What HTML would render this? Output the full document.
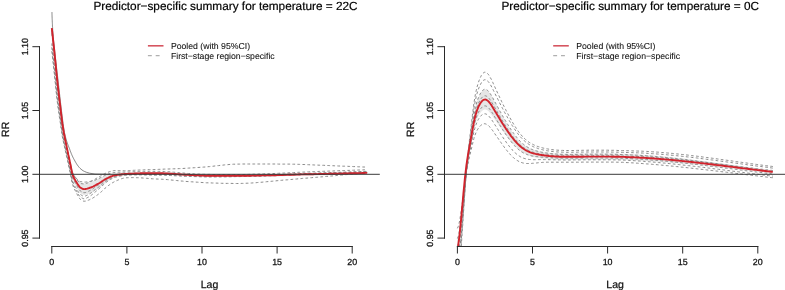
<!DOCTYPE html>
<html><head><meta charset="utf-8"><style>
html,body{margin:0;padding:0;background:#fff;}
svg{display:block;}
text{font-family:"Liberation Sans",Arial,Helvetica,sans-serif;fill:#111;stroke:#111;stroke-width:0.25px;text-rendering:geometricPrecision;}
.ttl{font-size:11.8px;stroke-width:0.2px;fill:#000;stroke:#000;}
.leg{font-size:8.7px;stroke-width:0.08px;}
.ax{font-size:8.9px;}
.lab{font-size:10.5px;}
</style></head><body>
<svg width="785" height="290" viewBox="0 0 785 290"><defs><clipPath id="cl"><rect x="39.2" y="12.1" width="340.6" height="234.1"/></clipPath><clipPath id="cr"><rect x="444.8" y="12.1" width="341" height="234.1"/></clipPath></defs><rect width="785" height="290" fill="#fff"/><g clip-path="url(#cl)"><polygon points="51.8,24.4 52.6,31.3 53.3,38.3 54.1,45.4 54.8,52.6 55.6,60.0 56.3,67.6 57.1,75.0 57.8,81.9 58.6,88.5 59.3,94.9 60.1,101.1 60.8,107.3 61.6,113.6 62.3,119.4 63.1,124.3 63.8,128.7 64.6,132.7 65.3,136.5 66.1,140.1 66.8,143.7 67.6,147.2 68.3,150.9 69.1,154.4 69.8,157.9 70.6,161.4 71.3,165.2 72.1,168.8 72.8,171.2 73.6,172.8 74.3,174.2 75.1,175.4 75.8,176.5 76.6,177.6 77.3,178.7 78.1,179.8 78.8,180.8 79.6,181.6 80.3,182.1 81.1,182.5 81.8,182.8 82.6,183.1 83.3,183.3 84.1,183.4 84.8,183.4 85.6,183.3 86.3,183.2 87.1,183.0 87.8,182.8 88.6,182.6 89.3,182.4 90.1,182.2 90.9,181.9 91.6,181.7 92.4,181.4 93.1,181.1 93.9,180.8 94.6,180.4 95.4,180.1 96.1,179.7 96.9,179.3 97.6,179.0 98.4,178.7 99.1,178.3 99.9,178.0 100.6,177.6 101.4,177.2 102.1,176.9 102.9,176.6 103.6,176.2 104.4,175.9 105.1,175.6 105.9,175.3 106.6,175.1 107.4,174.9 108.1,174.7 108.9,174.4 109.6,174.2 110.4,174.0 111.1,173.8 111.9,173.6 112.6,173.4 113.4,173.2 114.1,173.1 114.9,173.0 115.6,172.9 116.4,172.8 117.1,172.8 117.9,172.7 118.6,172.7 119.4,172.7 120.1,172.6 120.9,172.6 121.6,172.5 122.4,172.5 123.1,172.5 123.9,172.5 124.6,172.4 125.4,172.4 126.1,172.4 126.9,172.4 127.7,172.3 128.4,172.3 129.2,172.3 129.9,172.3 130.7,172.2 131.4,172.2 132.2,172.2 132.9,172.2 133.7,172.1 134.4,172.1 135.2,172.1 135.9,172.1 136.7,172.0 137.4,172.0 138.2,172.0 138.9,172.0 139.7,172.0 140.4,172.0 141.2,172.0 141.9,172.0 143.4,172.0 144.9,172.0 146.4,172.0 147.9,172.0 149.4,172.0 150.9,172.0 152.4,172.0 153.9,172.0 155.4,172.0 156.9,172.0 158.4,172.0 159.9,172.0 161.4,172.0 162.9,172.0 164.4,172.1 166.0,172.1 167.5,172.2 169.0,172.3 170.5,172.4 172.0,172.5 173.5,172.6 175.0,172.7 176.5,172.8 178.0,173.0 179.5,173.1 181.0,173.2 182.5,173.3 184.0,173.4 185.5,173.5 187.0,173.5 188.5,173.6 190.0,173.7 191.5,173.8 193.0,173.8 194.5,173.9 196.0,174.0 197.5,174.0 199.0,174.1 200.5,174.2 202.0,174.2 203.5,174.3 205.0,174.3 206.5,174.4 208.0,174.4 209.5,174.4 211.0,174.4 212.5,174.5 214.0,174.5 215.5,174.5 217.0,174.5 218.5,174.5 220.0,174.5 221.5,174.5 223.0,174.5 224.5,174.5 226.0,174.5 227.5,174.5 229.0,174.6 230.5,174.6 232.0,174.6 233.5,174.6 235.0,174.5 236.5,174.5 238.0,174.5 239.6,174.5 241.1,174.5 242.6,174.5 244.1,174.5 245.6,174.4 247.1,174.4 248.6,174.4 250.1,174.4 251.6,174.4 253.1,174.3 254.6,174.3 256.1,174.3 257.6,174.2 259.1,174.2 260.6,174.2 262.1,174.2 263.6,174.1 265.1,174.1 266.6,174.1 268.1,174.1 269.6,174.0 271.1,174.0 272.6,174.0 274.1,173.9 275.6,173.9 277.1,173.8 278.6,173.8 280.1,173.8 281.6,173.7 283.1,173.7 284.6,173.6 286.1,173.6 287.6,173.5 289.1,173.5 290.6,173.5 292.1,173.4 293.6,173.4 295.1,173.3 296.6,173.3 298.1,173.3 299.6,173.2 301.1,173.2 302.6,173.1 304.1,173.1 305.6,173.1 307.1,173.0 308.6,173.0 310.1,173.0 311.6,172.9 313.1,172.9 314.6,172.9 316.2,172.8 317.7,172.8 319.2,172.8 320.7,172.7 322.2,172.7 323.7,172.7 325.2,172.6 326.7,172.6 328.2,172.6 329.7,172.6 331.2,172.5 332.7,172.5 334.2,172.5 335.7,172.4 337.2,172.4 338.7,172.4 340.2,172.3 341.7,172.3 343.2,172.2 344.7,172.2 346.2,172.2 347.7,172.1 349.2,172.1 350.7,172.1 352.2,172.0 353.7,172.0 355.2,171.9 356.7,171.9 358.2,171.9 359.7,171.8 361.2,171.8 362.7,171.7 364.2,171.7 365.7,171.7 367.2,171.6 367.2,174.2 365.7,174.2 364.2,174.3 362.7,174.3 361.2,174.3 359.7,174.4 358.2,174.4 356.7,174.5 355.2,174.5 353.7,174.5 352.2,174.6 350.7,174.6 349.2,174.6 347.7,174.7 346.2,174.7 344.7,174.8 343.2,174.8 341.7,174.8 340.2,174.9 338.7,174.9 337.2,174.9 335.7,175.0 334.2,175.0 332.7,175.0 331.2,175.1 329.7,175.1 328.2,175.1 326.7,175.2 325.2,175.2 323.7,175.2 322.2,175.3 320.7,175.3 319.2,175.3 317.7,175.3 316.2,175.4 314.6,175.4 313.1,175.4 311.6,175.5 310.1,175.5 308.6,175.5 307.1,175.6 305.6,175.6 304.1,175.6 302.6,175.7 301.1,175.7 299.6,175.8 298.1,175.8 296.6,175.8 295.1,175.9 293.6,175.9 292.1,176.0 290.6,176.0 289.1,176.1 287.6,176.1 286.1,176.1 284.6,176.2 283.1,176.2 281.6,176.3 280.1,176.3 278.6,176.4 277.1,176.4 275.6,176.4 274.1,176.5 272.6,176.5 271.1,176.5 269.6,176.6 268.1,176.6 266.6,176.6 265.1,176.7 263.6,176.7 262.1,176.7 260.6,176.7 259.1,176.8 257.6,176.8 256.1,176.8 254.6,176.9 253.1,176.9 251.6,176.9 250.1,176.9 248.6,177.0 247.1,177.0 245.6,177.0 244.1,177.0 242.6,177.0 241.1,177.1 239.6,177.1 238.0,177.1 236.5,177.1 235.0,177.1 233.5,177.1 232.0,177.1 230.5,177.1 229.0,177.1 227.5,177.1 226.0,177.1 224.5,177.1 223.0,177.1 221.5,177.1 220.0,177.1 218.5,177.1 217.0,177.0 215.5,177.0 214.0,177.0 212.5,177.0 211.0,177.0 209.5,177.0 208.0,177.0 206.5,176.9 205.0,176.9 203.5,176.8 202.0,176.8 200.5,176.7 199.0,176.7 197.5,176.6 196.0,176.5 194.5,176.5 193.0,176.4 191.5,176.3 190.0,176.2 188.5,176.2 187.0,176.1 185.5,176.0 184.0,175.9 182.5,175.8 181.0,175.7 179.5,175.6 178.0,175.5 176.5,175.4 175.0,175.3 173.5,175.2 172.0,175.1 170.5,175.0 169.0,174.9 167.5,174.8 166.0,174.7 164.4,174.6 162.9,174.6 161.4,174.6 159.9,174.6 158.4,174.6 156.9,174.6 155.4,174.6 153.9,174.6 152.4,174.6 150.9,174.6 149.4,174.6 147.9,174.6 146.4,174.6 144.9,174.6 143.4,174.6 141.9,174.6 141.2,174.7 140.4,174.7 139.7,174.7 138.9,174.7 138.2,174.8 137.4,174.8 136.7,174.8 135.9,174.9 135.2,174.9 134.4,174.9 133.7,175.0 132.9,175.0 132.2,175.1 131.4,175.1 130.7,175.2 129.9,175.2 129.2,175.3 128.4,175.3 127.7,175.4 126.9,175.4 126.1,175.5 125.4,175.5 124.6,175.6 123.9,175.7 123.1,175.8 122.4,175.9 121.6,176.0 120.9,176.2 120.1,176.3 119.4,176.4 118.6,176.6 117.9,176.8 117.1,176.9 116.4,177.1 115.6,177.3 114.9,177.5 114.1,177.7 113.4,178.0 112.6,178.3 111.9,178.7 111.1,179.0 110.4,179.5 109.6,179.9 108.9,180.4 108.1,180.9 107.4,181.3 106.6,181.9 105.9,182.4 105.1,183.0 104.4,183.6 103.6,184.3 102.9,184.9 102.1,185.6 101.4,186.2 100.6,186.8 99.9,187.4 99.1,188.0 98.4,188.6 97.6,189.1 96.9,189.5 96.1,190.0 95.4,190.5 94.6,191.0 93.9,191.4 93.1,191.9 92.4,192.3 91.6,192.6 90.9,193.0 90.1,193.3 89.3,193.6 88.6,193.8 87.8,194.1 87.1,194.4 86.3,194.6 85.6,194.7 84.8,194.8 84.1,194.9 83.3,194.7 82.6,194.5 81.8,194.1 81.1,193.6 80.3,193.1 79.6,192.3 78.8,191.3 78.1,190.0 77.3,188.7 76.6,187.3 75.8,185.9 75.1,184.6 74.3,183.2 73.6,181.5 72.8,179.6 72.1,177.0 71.3,173.1 70.6,169.2 69.8,165.6 69.1,162.1 68.3,158.5 67.6,154.9 66.8,151.3 66.1,147.8 65.3,144.2 64.6,140.4 63.8,136.3 63.1,132.0 62.3,127.1 61.6,121.2 60.8,114.9 60.1,108.8 59.3,102.5 58.6,96.2 57.8,89.6 57.1,82.7 56.3,75.2 55.6,67.6 54.8,60.3 54.1,53.1 53.3,45.9 52.6,38.9 51.8,32.0" fill="#e6e6e6" stroke="none"/><polyline points="51.8,51.2 52.6,58.0 53.3,64.9 54.1,71.8 54.8,78.8 55.6,85.8 56.3,93.1 57.1,100.0 57.8,105.9 58.6,111.3 59.3,116.4 60.1,121.3 60.8,126.4 61.6,131.7 62.3,136.5 63.1,140.3 63.8,143.8 64.6,147.1 65.3,150.5 66.1,154.0 66.8,157.4 67.6,160.8 68.3,164.4 69.1,167.9 69.8,171.3 70.6,174.9 71.3,178.8 72.1,182.7 72.8,185.3 73.6,187.3 74.3,188.9 75.1,190.4 75.8,191.7 76.6,193.2 77.3,194.6 78.1,196.0 78.8,197.3 79.6,198.5 80.3,199.3 81.1,199.9 81.8,200.4 82.6,200.8 83.3,201.1 84.1,201.2 84.8,201.2 85.6,201.1 86.3,200.9 87.1,200.7 87.8,200.4 88.6,200.1 89.3,199.8 90.1,199.4 90.9,199.1 91.6,198.7 92.4,198.3 93.1,197.8 93.9,197.4 94.6,196.9 95.4,196.3 96.1,195.8 96.9,195.3 97.6,194.8 98.4,194.2 99.1,193.6 99.9,193.0 100.6,192.3 101.4,191.7 102.1,191.0 102.9,190.3 103.6,189.6 104.4,188.9 105.1,188.2 105.9,187.5 106.6,186.9 107.4,186.3 108.1,185.8 108.9,185.2 109.6,184.7 110.4,184.1 111.1,183.6 111.9,183.1 112.6,182.7 113.4,182.3 114.1,181.8 114.9,181.5 115.6,181.1 116.4,180.8 117.1,180.5 117.9,180.1 118.6,179.8 119.4,179.5 120.1,179.2 120.9,179.0 121.6,178.7 122.4,178.5 123.1,178.3 123.9,178.1 124.6,178.0 125.4,177.9 126.1,177.8 126.9,177.7 127.7,177.7 128.4,177.7 129.2,177.6 129.9,177.6 130.7,177.6 131.4,177.6 132.2,177.6 132.9,177.6 133.7,177.6 134.4,177.6 135.2,177.6 135.9,177.6 136.7,177.7 137.4,177.7 138.2,177.7 138.9,177.8 139.7,177.8 140.4,177.8 141.2,177.9 141.9,177.9 143.4,178.1 144.9,178.2 146.4,178.3 147.9,178.4 149.4,178.6 150.9,178.7 152.4,178.8 153.9,178.9 155.4,179.0 156.9,179.0 158.4,179.1 159.9,179.1 161.4,179.2 162.9,179.3 164.4,179.4 166.0,179.5 167.5,179.6 169.0,179.8 170.5,179.9 172.0,180.1 173.5,180.2 175.0,180.4 176.5,180.5 178.0,180.7 179.5,180.8 181.0,181.0 182.5,181.1 184.0,181.3 185.5,181.4 187.0,181.5 188.5,181.6 190.0,181.7 191.5,181.8 193.0,181.9 194.5,182.0 196.0,182.1 197.5,182.2 199.0,182.3 200.5,182.4 202.0,182.5 203.5,182.6 205.0,182.7 206.5,182.8 208.0,182.8 209.5,182.9 211.0,182.9 212.5,183.0 214.0,183.0 215.5,183.1 217.0,183.1 218.5,183.2 220.0,183.2 221.5,183.3 223.0,183.3 224.5,183.3 226.0,183.4 227.5,183.4 229.0,183.4 230.5,183.4 232.0,183.4 233.5,183.5 235.0,183.5 236.5,183.5 238.0,183.5 239.6,183.5 241.1,183.4 242.6,183.4 244.1,183.4 245.6,183.3 247.1,183.2 248.6,183.2 250.1,183.1 251.6,183.0 253.1,182.9 254.6,182.8 256.1,182.7 257.6,182.5 259.1,182.4 260.6,182.3 262.1,182.2 263.6,182.0 265.1,181.9 266.6,181.7 268.1,181.6 269.6,181.5 271.1,181.3 272.6,181.2 274.1,181.0 275.6,180.9 277.1,180.7 278.6,180.6 280.1,180.4 281.6,180.3 283.1,180.1 284.6,180.0 286.1,179.9 287.6,179.8 289.1,179.6 290.6,179.5 292.1,179.4 293.6,179.2 295.1,179.1 296.6,179.0 298.1,178.8 299.6,178.7 301.1,178.6 302.6,178.4 304.1,178.3 305.6,178.2 307.1,178.1 308.6,177.9 310.1,177.8 311.6,177.7 313.1,177.5 314.6,177.4 316.2,177.3 317.7,177.2 319.2,177.0 320.7,176.9 322.2,176.8 323.7,176.7 325.2,176.5 326.7,176.4 328.2,176.3 329.7,176.1 331.2,176.0 332.7,175.9 334.2,175.7 335.7,175.6 337.2,175.4 338.7,175.3 340.2,175.2 341.7,175.0 343.2,174.9 344.7,174.7 346.2,174.6 347.7,174.5 349.2,174.3 350.7,174.2 352.2,174.0 353.7,173.9 355.2,173.7 356.7,173.6 358.2,173.4 359.7,173.3 361.2,173.1 362.7,173.0 364.2,172.8 365.7,172.7 367.2,172.5" fill="none" stroke="#858585" stroke-width="0.95" stroke-dasharray="2.7,2.3"/><polyline points="51.8,43.5 52.6,50.4 53.3,57.4 54.1,64.5 54.8,71.8 55.6,79.1 56.3,86.7 57.1,94.0 57.8,100.3 58.6,106.2 59.3,111.7 60.1,117.2 60.8,122.6 61.6,128.2 62.3,133.3 63.1,137.5 63.8,141.2 64.6,144.6 65.3,148.0 66.1,151.3 66.8,154.5 67.6,157.8 68.3,161.3 69.1,164.7 69.8,168.2 70.6,171.7 71.3,175.5 72.1,179.3 72.8,181.7 73.6,183.6 74.3,185.1 75.1,186.4 75.8,187.7 76.6,188.9 77.3,190.2 78.1,191.5 78.8,192.7 79.6,193.7 80.3,194.4 81.1,194.9 81.8,195.4 82.6,195.8 83.3,196.0 84.1,196.1 84.8,196.1 85.6,195.9 86.3,195.6 87.1,195.3 87.8,194.9 88.6,194.4 89.3,194.0 90.1,193.5 90.9,193.0 91.6,192.5 92.4,191.9 93.1,191.3 93.9,190.7 94.6,190.1 95.4,189.5 96.1,188.8 96.9,188.3 97.6,187.7 98.4,187.2 99.1,186.6 99.9,186.0 100.6,185.4 101.4,184.7 102.1,184.1 102.9,183.5 103.6,182.9 104.4,182.3 105.1,181.7 105.9,181.1 106.6,180.6 107.4,180.1 108.1,179.7 108.9,179.2 109.6,178.8 110.4,178.4 111.1,178.0 111.9,177.6 112.6,177.3 113.4,177.0 114.1,176.7 114.9,176.5 115.6,176.3 116.4,176.1 117.1,175.9 117.9,175.8 118.6,175.6 119.4,175.5 120.1,175.3 120.9,175.2 121.6,175.1 122.4,175.0 123.1,174.9 123.9,174.8 124.6,174.7 125.4,174.6 126.1,174.6 126.9,174.5 127.7,174.5 128.4,174.5 129.2,174.4 129.9,174.4 130.7,174.4 131.4,174.3 132.2,174.3 132.9,174.3 133.7,174.3 134.4,174.3 135.2,174.3 135.9,174.2 136.7,174.2 137.4,174.2 138.2,174.2 138.9,174.2 139.7,174.2 140.4,174.2 141.2,174.3 141.9,174.3 143.4,174.3 144.9,174.3 146.4,174.4 147.9,174.4 149.4,174.5 150.9,174.5 152.4,174.5 153.9,174.5 155.4,174.6 156.9,174.6 158.4,174.6 159.9,174.6 161.4,174.6 162.9,174.6 164.4,174.6 166.0,174.7 167.5,174.8 169.0,174.8 170.5,174.9 172.0,175.0 173.5,175.1 175.0,175.2 176.5,175.3 178.0,175.4 179.5,175.5 181.0,175.6 182.5,175.7 184.0,175.8 185.5,175.9 187.0,175.9 188.5,176.0 190.0,176.1 191.5,176.1 193.0,176.2 194.5,176.3 196.0,176.3 197.5,176.4 199.0,176.4 200.5,176.5 202.0,176.5 203.5,176.6 205.0,176.6 206.5,176.6 208.0,176.7 209.5,176.7 211.0,176.7 212.5,176.7 214.0,176.7 215.5,176.7 217.0,176.7 218.5,176.7 220.0,176.7 221.5,176.7 223.0,176.7 224.5,176.7 226.0,176.7 227.5,176.7 229.0,176.7 230.5,176.7 232.0,176.7 233.5,176.6 235.0,176.6 236.5,176.6 238.0,176.6 239.6,176.6 241.1,176.5 242.6,176.5 244.1,176.5 245.6,176.4 247.1,176.4 248.6,176.4 250.1,176.3 251.6,176.3 253.1,176.3 254.6,176.2 256.1,176.2 257.6,176.2 259.1,176.1 260.6,176.1 262.1,176.0 263.6,176.0 265.1,176.0 266.6,175.9 268.1,175.9 269.6,175.8 271.1,175.8 272.6,175.7 274.1,175.7 275.6,175.6 277.1,175.6 278.6,175.5 280.1,175.5 281.6,175.4 283.1,175.4 284.6,175.3 286.1,175.2 287.6,175.2 289.1,175.1 290.6,175.1 292.1,175.0 293.6,174.9 295.1,174.9 296.6,174.8 298.1,174.8 299.6,174.7 301.1,174.6 302.6,174.6 304.1,174.5 305.6,174.5 307.1,174.4 308.6,174.4 310.1,174.3 311.6,174.3 313.1,174.2 314.6,174.2 316.2,174.1 317.7,174.1 319.2,174.0 320.7,174.0 322.2,173.9 323.7,173.9 325.2,173.8 326.7,173.8 328.2,173.7 329.7,173.7 331.2,173.6 332.7,173.6 334.2,173.5 335.7,173.5 337.2,173.4 338.7,173.3 340.2,173.3 341.7,173.2 343.2,173.2 344.7,173.1 346.2,173.1 347.7,173.0 349.2,173.0 350.7,172.9 352.2,172.8 353.7,172.8 355.2,172.7 356.7,172.7 358.2,172.6 359.7,172.6 361.2,172.5 362.7,172.4 364.2,172.4 365.7,172.3 367.2,172.3" fill="none" stroke="#858585" stroke-width="0.95" stroke-dasharray="2.7,2.3"/><polyline points="51.8,33.3 52.6,40.6 53.3,47.9 54.1,55.3 54.8,62.7 55.6,70.1 56.3,77.8 57.1,85.2 57.8,91.9 58.6,98.2 59.3,104.3 60.1,110.3 60.8,116.2 61.6,122.3 62.3,127.9 63.1,132.6 63.8,136.8 64.6,140.6 65.3,144.2 66.1,147.5 66.8,150.8 67.6,154.1 68.3,157.5 69.1,160.9 69.8,164.3 70.6,167.8 71.3,171.7 72.1,175.5 72.8,177.9 73.6,179.7 74.3,181.3 75.1,182.6 75.8,183.9 76.6,185.2 77.3,186.5 78.1,187.8 78.8,189.1 79.6,190.1 80.3,190.9 81.1,191.4 81.8,191.9 82.6,192.3 83.3,192.6 84.1,192.7 84.8,192.6 85.6,192.5 86.3,192.3 87.1,192.0 87.8,191.6 88.6,191.3 89.3,190.9 90.1,190.4 90.9,190.0 91.6,189.6 92.4,189.1 93.1,188.6 93.9,188.1 94.6,187.5 95.4,187.0 96.1,186.5 96.9,186.0 97.6,185.5 98.4,185.0 99.1,184.5 99.9,184.0 100.6,183.4 101.4,182.9 102.1,182.3 102.9,181.7 103.6,181.2 104.4,180.7 105.1,180.2 105.9,179.7 106.6,179.2 107.4,178.8 108.1,178.4 108.9,178.0 109.6,177.7 110.4,177.3 111.1,176.9 111.9,176.6 112.6,176.3 113.4,176.1 114.1,175.9 114.9,175.7 115.6,175.5 116.4,175.4 117.1,175.2 117.9,175.1 118.6,175.0 119.4,174.9 120.1,174.8 120.9,174.7 121.6,174.6 122.4,174.5 123.1,174.4 123.9,174.4 124.6,174.3 125.4,174.2 126.1,174.2 126.9,174.1 127.7,174.1 128.4,174.1 129.2,174.0 129.9,174.0 130.7,174.0 131.4,173.9 132.2,173.9 132.9,173.8 133.7,173.8 134.4,173.8 135.2,173.8 135.9,173.7 136.7,173.7 137.4,173.7 138.2,173.6 138.9,173.6 139.7,173.6 140.4,173.6 141.2,173.6 141.9,173.6 143.4,173.5 144.9,173.5 146.4,173.5 147.9,173.5 149.4,173.5 150.9,173.5 152.4,173.5 153.9,173.5 155.4,173.5 156.9,173.5 158.4,173.5 159.9,173.5 161.4,173.5 162.9,173.6 164.4,173.6 166.0,173.7 167.5,173.7 169.0,173.8 170.5,173.9 172.0,174.0 173.5,174.1 175.0,174.2 176.5,174.3 178.0,174.4 179.5,174.5 181.0,174.6 182.5,174.7 184.0,174.8 185.5,174.9 187.0,174.9 188.5,175.0 190.0,175.0 191.5,175.1 193.0,175.2 194.5,175.2 196.0,175.3 197.5,175.4 199.0,175.4 200.5,175.5 202.0,175.5 203.5,175.6 205.0,175.6 206.5,175.6 208.0,175.6 209.5,175.7 211.0,175.7 212.5,175.7 214.0,175.7 215.5,175.7 217.0,175.7 218.5,175.7 220.0,175.7 221.5,175.7 223.0,175.7 224.5,175.7 226.0,175.7 227.5,175.7 229.0,175.6 230.5,175.6 232.0,175.6 233.5,175.6 235.0,175.6 236.5,175.6 238.0,175.6 239.6,175.5 241.1,175.5 242.6,175.5 244.1,175.5 245.6,175.4 247.1,175.4 248.6,175.4 250.1,175.3 251.6,175.3 253.1,175.2 254.6,175.2 256.1,175.2 257.6,175.1 259.1,175.1 260.6,175.1 262.1,175.0 263.6,175.0 265.1,174.9 266.6,174.9 268.1,174.9 269.6,174.8 271.1,174.8 272.6,174.7 274.1,174.7 275.6,174.6 277.1,174.6 278.6,174.5 280.1,174.4 281.6,174.4 283.1,174.3 284.6,174.3 286.1,174.2 287.6,174.2 289.1,174.1 290.6,174.0 292.1,174.0 293.6,173.9 295.1,173.9 296.6,173.8 298.1,173.7 299.6,173.7 301.1,173.6 302.6,173.6 304.1,173.5 305.6,173.4 307.1,173.4 308.6,173.3 310.1,173.3 311.6,173.2 313.1,173.2 314.6,173.1 316.2,173.1 317.7,173.0 319.2,173.0 320.7,172.9 322.2,172.9 323.7,172.8 325.2,172.8 326.7,172.8 328.2,172.7 329.7,172.7 331.2,172.6 332.7,172.6 334.2,172.5 335.7,172.5 337.2,172.4 338.7,172.4 340.2,172.3 341.7,172.3 343.2,172.2 344.7,172.2 346.2,172.1 347.7,172.1 349.2,172.0 350.7,172.0 352.2,171.9 353.7,171.8 355.2,171.8 356.7,171.7 358.2,171.7 359.7,171.6 361.2,171.6 362.7,171.5 364.2,171.5 365.7,171.4 367.2,171.4" fill="none" stroke="#858585" stroke-width="0.95" stroke-dasharray="2.7,2.3"/><polyline points="51.8,30.7 52.6,37.7 53.3,44.7 54.1,51.8 54.8,59.0 55.6,66.3 56.3,74.0 57.1,81.4 57.8,88.3 58.6,94.9 59.3,101.3 60.1,107.5 60.8,113.7 61.6,119.9 62.3,125.6 63.1,130.2 63.8,134.3 64.6,138.1 65.3,141.6 66.1,145.0 66.8,148.4 67.6,151.8 68.3,155.2 69.1,158.5 69.8,161.8 70.6,165.0 71.3,168.4 72.1,171.7 72.8,173.7 73.6,175.1 74.3,176.2 75.1,177.1 75.8,177.8 76.6,178.6 77.3,179.3 78.1,180.1 78.8,180.7 79.6,181.2 80.3,181.5 81.1,181.6 81.8,181.7 82.6,181.9 83.3,182.0 84.1,182.1 84.8,182.1 85.6,182.1 86.3,182.0 87.1,181.9 87.8,181.8 88.6,181.6 89.3,181.5 90.1,181.4 90.9,181.3 91.6,181.1 92.4,181.0 93.1,180.7 93.9,180.5 94.6,180.2 95.4,180.0 96.1,179.7 96.9,179.3 97.6,179.0 98.4,178.7 99.1,178.4 99.9,178.0 100.6,177.6 101.4,177.2 102.1,176.8 102.9,176.5 103.6,176.1 104.4,175.7 105.1,175.3 105.9,175.0 106.6,174.7 107.4,174.4 108.1,174.1 108.9,173.9 109.6,173.6 110.4,173.4 111.1,173.1 111.9,172.9 112.6,172.7 113.4,172.6 114.1,172.5 114.9,172.4 115.6,172.3 116.4,172.3 117.1,172.3 117.9,172.2 118.6,172.2 119.4,172.2 120.1,172.2 120.9,172.1 121.6,172.1 122.4,172.1 123.1,172.1 123.9,172.1 124.6,172.1 125.4,172.0 126.1,172.0 126.9,172.0 127.7,171.9 128.4,171.9 129.2,171.9 129.9,171.8 130.7,171.8 131.4,171.7 132.2,171.7 132.9,171.7 133.7,171.6 134.4,171.6 135.2,171.6 135.9,171.6 136.7,171.5 137.4,171.5 138.2,171.5 138.9,171.5 139.7,171.4 140.4,171.4 141.2,171.4 141.9,171.4 143.4,171.4 144.9,171.4 146.4,171.4 147.9,171.4 149.4,171.4 150.9,171.4 152.4,171.4 153.9,171.4 155.4,171.4 156.9,171.4 158.4,171.4 159.9,171.4 161.4,171.4 162.9,171.4 164.4,171.5 166.0,171.6 167.5,171.7 169.0,171.8 170.5,171.9 172.0,172.0 173.5,172.2 175.0,172.3 176.5,172.5 178.0,172.6 179.5,172.7 181.0,172.9 182.5,173.0 184.0,173.1 185.5,173.3 187.0,173.4 188.5,173.5 190.0,173.6 191.5,173.7 193.0,173.8 194.5,173.9 196.0,173.9 197.5,174.0 199.0,174.1 200.5,174.2 202.0,174.2 203.5,174.3 205.0,174.3 206.5,174.4 208.0,174.4 209.5,174.4 211.0,174.4 212.5,174.5 214.0,174.5 215.5,174.5 217.0,174.5 218.5,174.5 220.0,174.5 221.5,174.5 223.0,174.5 224.5,174.5 226.0,174.5 227.5,174.5 229.0,174.6 230.5,174.6 232.0,174.6 233.5,174.6 235.0,174.5 236.5,174.5 238.0,174.5 239.6,174.5 241.1,174.5 242.6,174.5 244.1,174.5 245.6,174.4 247.1,174.4 248.6,174.4 250.1,174.3 251.6,174.3 253.1,174.2 254.6,174.2 256.1,174.1 257.6,174.1 259.1,174.0 260.6,174.0 262.1,173.9 263.6,173.9 265.1,173.8 266.6,173.8 268.1,173.7 269.6,173.7 271.1,173.6 272.6,173.5 274.1,173.5 275.6,173.4 277.1,173.3 278.6,173.3 280.1,173.2 281.6,173.1 283.1,173.1 284.6,173.0 286.1,172.9 287.6,172.9 289.1,172.8 290.6,172.7 292.1,172.6 293.6,172.6 295.1,172.5 296.6,172.4 298.1,172.3 299.6,172.3 301.1,172.2 302.6,172.1 304.1,172.1 305.6,172.0 307.1,171.9 308.6,171.9 310.1,171.8 311.6,171.7 313.1,171.7 314.6,171.6 316.2,171.6 317.7,171.5 319.2,171.4 320.7,171.4 322.2,171.3 323.7,171.3 325.2,171.2 326.7,171.2 328.2,171.1 329.7,171.1 331.2,171.0 332.7,171.0 334.2,170.9 335.7,170.9 337.2,170.8 338.7,170.7 340.2,170.7 341.7,170.6 343.2,170.6 344.7,170.5 346.2,170.5 347.7,170.4 349.2,170.4 350.7,170.3 352.2,170.2 353.7,170.2 355.2,170.1 356.7,170.1 358.2,170.0 359.7,170.0 361.2,169.9 362.7,169.9 364.2,169.8 365.7,169.8 367.2,169.7" fill="none" stroke="#858585" stroke-width="0.95" stroke-dasharray="2.7,2.3"/><polyline points="51.8,28.2 52.6,35.1 53.3,42.1 54.1,49.2 54.8,56.4 55.6,63.8 56.3,71.4 57.1,78.8 57.8,85.7 58.6,92.3 59.3,98.7 60.1,104.9 60.8,111.1 61.6,117.4 62.3,123.2 63.1,128.1 63.8,132.5 64.6,136.5 65.3,140.3 66.1,143.9 66.8,147.3 67.6,150.6 68.3,154.0 69.1,157.2 69.8,160.5 70.6,163.8 71.3,167.4 72.1,171.0 72.8,173.2 73.6,174.8 74.3,176.2 75.1,177.2 75.8,178.2 76.6,179.2 77.3,180.2 78.1,181.2 78.8,182.1 79.6,182.8 80.3,183.2 81.1,183.5 81.8,183.7 82.6,183.8 83.3,183.9 84.1,183.9 84.8,183.8 85.6,183.6 86.3,183.4 87.1,183.1 87.8,182.8 88.6,182.4 89.3,182.1 90.1,181.7 90.9,181.4 91.6,181.0 92.4,180.7 93.1,180.2 93.9,179.8 94.6,179.4 95.4,178.9 96.1,178.5 96.9,178.1 97.6,177.6 98.4,177.2 99.1,176.8 99.9,176.4 100.6,176.0 101.4,175.5 102.1,175.1 102.9,174.7 103.6,174.2 104.4,173.8 105.1,173.5 105.9,173.1 106.6,172.8 107.4,172.5 108.1,172.2 108.9,172.0 109.6,171.7 110.4,171.5 111.1,171.2 111.9,171.0 112.6,170.8 113.4,170.7 114.1,170.6 114.9,170.5 115.6,170.5 116.4,170.5 117.1,170.5 117.9,170.5 118.6,170.6 119.4,170.6 120.1,170.6 120.9,170.6 121.6,170.7 122.4,170.7 123.1,170.7 123.9,170.7 124.6,170.8 125.4,170.7 126.1,170.7 126.9,170.7 127.7,170.7 128.4,170.6 129.2,170.6 129.9,170.5 130.7,170.5 131.4,170.5 132.2,170.4 132.9,170.4 133.7,170.3 134.4,170.3 135.2,170.2 135.9,170.2 136.7,170.2 137.4,170.1 138.2,170.1 138.9,170.1 139.7,170.0 140.4,170.0 141.2,170.0 141.9,169.9 143.4,169.9 144.9,169.8 146.4,169.8 147.9,169.7 149.4,169.7 150.9,169.6 152.4,169.6 153.9,169.6 155.4,169.5 156.9,169.5 158.4,169.4 159.9,169.3 161.4,169.3 162.9,169.2 164.4,169.1 166.0,169.1 167.5,169.0 169.0,169.0 170.5,168.9 172.0,168.9 173.5,168.8 175.0,168.8 176.5,168.7 178.0,168.7 179.5,168.6 181.0,168.6 182.5,168.5 184.0,168.4 185.5,168.3 187.0,168.2 188.5,168.1 190.0,168.0 191.5,167.9 193.0,167.8 194.5,167.7 196.0,167.6 197.5,167.5 199.0,167.4 200.5,167.3 202.0,167.2 203.5,167.1 205.0,167.0 206.5,166.9 208.0,166.7 209.5,166.6 211.0,166.4 212.5,166.3 214.0,166.1 215.5,165.9 217.0,165.7 218.5,165.6 220.0,165.4 221.5,165.3 223.0,165.1 224.5,164.9 226.0,164.8 227.5,164.7 229.0,164.5 230.5,164.4 232.0,164.3 233.5,164.2 235.0,164.2 236.5,164.1 238.0,164.1 239.6,164.1 241.1,164.0 242.6,164.0 244.1,164.0 245.6,164.0 247.1,164.0 248.6,164.0 250.1,164.0 251.6,164.0 253.1,164.0 254.6,164.0 256.1,164.0 257.6,164.0 259.1,164.0 260.6,164.0 262.1,164.0 263.6,164.0 265.1,164.0 266.6,164.0 268.1,164.0 269.6,164.0 271.1,164.0 272.6,164.0 274.1,164.0 275.6,164.0 277.1,164.0 278.6,164.1 280.1,164.1 281.6,164.1 283.1,164.1 284.6,164.1 286.1,164.1 287.6,164.1 289.1,164.1 290.6,164.1 292.1,164.2 293.6,164.2 295.1,164.2 296.6,164.3 298.1,164.3 299.6,164.4 301.1,164.4 302.6,164.5 304.1,164.5 305.6,164.6 307.1,164.7 308.6,164.7 310.1,164.8 311.6,164.9 313.1,164.9 314.6,165.0 316.2,165.0 317.7,165.1 319.2,165.2 320.7,165.2 322.2,165.3 323.7,165.3 325.2,165.4 326.7,165.5 328.2,165.5 329.7,165.6 331.2,165.7 332.7,165.7 334.2,165.8 335.7,165.8 337.2,165.9 338.7,166.0 340.2,166.0 341.7,166.1 343.2,166.2 344.7,166.2 346.2,166.3 347.7,166.3 349.2,166.4 350.7,166.5 352.2,166.5 353.7,166.6 355.2,166.6 356.7,166.7 358.2,166.8 359.7,166.8 361.2,166.9 362.7,167.0 364.2,167.0 365.7,167.1 367.2,167.2" fill="none" stroke="#858585" stroke-width="0.95" stroke-dasharray="2.7,2.3"/><polyline points="51.8,47.3 52.6,54.2 53.3,61.3 54.1,68.4 54.8,75.6 55.6,82.9 56.3,90.6 57.1,97.6 57.8,103.6 58.6,108.9 59.3,113.8 60.1,118.7 60.8,123.9 61.6,129.3 62.3,134.4 63.1,138.6 63.8,142.4 64.6,145.9 65.3,149.3 66.1,152.6 66.8,155.8 67.6,159.1 68.3,162.6 69.1,166.0 69.8,169.4 70.6,173.0 71.3,176.9 72.1,180.8 72.8,183.4 73.6,185.4 74.3,187.0 75.1,188.4 75.8,189.8 76.6,191.1 77.3,192.5 78.1,193.9 78.8,195.1 79.6,196.1 80.3,196.9 81.1,197.4 81.8,197.9 82.6,198.3 83.3,198.6 84.1,198.7 84.8,198.6 85.6,198.4 86.3,198.2 87.1,197.8 87.8,197.4 88.6,197.0 89.3,196.5 90.1,196.0 90.9,195.5 91.6,195.0 92.4,194.4 93.1,193.8 93.9,193.1 94.6,192.5 95.4,191.8 96.1,191.2 96.9,190.6 97.6,190.0 98.4,189.3 99.1,188.7 99.9,188.0 100.6,187.4 101.4,186.7 102.1,185.9 102.9,185.2 103.6,184.6 104.4,183.9 105.1,183.2 105.9,182.6 106.6,182.0 107.4,181.5 108.1,181.0 108.9,180.5 109.6,180.0 110.4,179.5 111.1,179.1 111.9,178.7 112.6,178.3 113.4,178.0 114.1,177.7 114.9,177.4 115.6,177.2 116.4,177.0 117.1,176.8 117.9,176.6 118.6,176.4 119.4,176.2 120.1,176.1 120.9,175.9 121.6,175.8 122.4,175.6 123.1,175.5 123.9,175.4 124.6,175.3 125.4,175.3 126.1,175.2 126.9,175.2 127.7,175.1 128.4,175.1 129.2,175.1 129.9,175.0 130.7,175.0 131.4,175.0 132.2,175.0 132.9,174.9 133.7,174.9 134.4,174.9 135.2,174.9 135.9,174.9 136.7,174.9 137.4,174.9 138.2,174.9 138.9,174.9 139.7,174.9 140.4,174.9 141.2,174.9 141.9,174.9 143.4,174.9 144.9,175.0 146.4,175.0 147.9,175.1 149.4,175.1 150.9,175.1 152.4,175.2 153.9,175.2 155.4,175.2 156.9,175.2 158.4,175.2 159.9,175.2 161.4,175.2 162.9,175.2 164.4,175.2 166.0,175.3 167.5,175.4 169.0,175.4 170.5,175.5 172.0,175.6 173.5,175.7 175.0,175.8 176.5,175.8 178.0,175.9 179.5,176.0 181.0,176.1 182.5,176.2 184.0,176.2 185.5,176.3 187.0,176.4 188.5,176.4 190.0,176.4 191.5,176.5 193.0,176.5 194.5,176.6 196.0,176.6 197.5,176.7 199.0,176.7 200.5,176.8 202.0,176.8 203.5,176.8 205.0,176.8 206.5,176.9 208.0,176.9 209.5,176.9 211.0,176.8 212.5,176.8 214.0,176.8 215.5,176.8 217.0,176.8 218.5,176.8 220.0,176.8 221.5,176.7 223.0,176.7 224.5,176.7 226.0,176.7 227.5,176.7 229.0,176.6 230.5,176.6 232.0,176.6 233.5,176.6 235.0,176.5 236.5,176.5 238.0,176.5 239.6,176.4 241.1,176.4 242.6,176.4 244.1,176.3 245.6,176.3 247.1,176.2 248.6,176.2 250.1,176.1 251.6,176.1 253.1,176.0 254.6,176.0 256.1,176.0 257.6,175.9 259.1,175.9 260.6,175.8 262.1,175.8 263.6,175.7 265.1,175.7 266.6,175.6 268.1,175.6 269.6,175.5 271.1,175.5 272.6,175.4 274.1,175.4 275.6,175.3 277.1,175.2 278.6,175.2 280.1,175.1 281.6,175.0 283.1,175.0 284.6,174.9 286.1,174.8 287.6,174.8 289.1,174.7 290.6,174.6 292.1,174.6 293.6,174.5 295.1,174.4 296.6,174.3 298.1,174.3 299.6,174.2 301.1,174.1 302.6,174.0 304.1,174.0 305.6,173.9 307.1,173.8 308.6,173.8 310.1,173.7 311.6,173.6 313.1,173.6 314.6,173.5 316.2,173.5 317.7,173.4 319.2,173.4 320.7,173.3 322.2,173.3 323.7,173.2 325.2,173.1 326.7,173.1 328.2,173.0 329.7,173.0 331.2,172.9 332.7,172.9 334.2,172.8 335.7,172.8 337.2,172.7 338.7,172.7 340.2,172.6 341.7,172.5 343.2,172.5 344.7,172.4 346.2,172.4 347.7,172.3 349.2,172.3 350.7,172.2 352.2,172.2 353.7,172.1 355.2,172.1 356.7,172.0 358.2,171.9 359.7,171.9 361.2,171.8 362.7,171.8 364.2,171.7 365.7,171.7 367.2,171.6" fill="none" stroke="#858585" stroke-width="0.95" stroke-dasharray="2.7,2.3"/><polyline points="51.95,12.10 51.97,12.91 51.99,13.73 52.01,14.54 52.04,15.35 52.06,16.17 52.09,16.98 52.12,17.79 52.15,18.61 52.18,19.42 52.22,20.24 52.25,21.05 52.29,21.86 52.33,22.68 52.37,23.49 52.41,24.30 52.45,25.12 52.49,25.93 52.53,26.74 52.58,27.56 52.62,28.37 52.67,29.18 52.72,30.00 52.77,30.81 52.83,31.63 52.89,32.44 52.95,33.25 53.01,34.07 53.08,34.88 53.15,35.69 53.22,36.51 53.29,37.32 53.36,38.13 53.44,38.95 53.52,39.76 53.60,40.57 53.68,41.39 53.76,42.20 53.84,43.02 53.93,43.83 54.01,44.64 54.10,45.46 54.19,46.27 54.28,47.08 54.37,47.90 54.46,48.71 54.55,49.52 54.64,50.34 54.73,51.15 54.82,51.96 54.91,52.78 55.00,53.59 55.09,54.41 55.18,55.22 55.27,56.03 55.36,56.85 55.45,57.66 55.54,58.47 55.62,59.29 55.71,60.10 55.80,60.91 55.89,61.73 55.97,62.54 56.06,63.35 56.16,64.17 56.25,64.98 56.34,65.80 56.43,66.61 56.53,67.42 56.62,68.24 56.72,69.05 56.81,69.86 56.91,70.68 57.00,71.49 57.10,72.30 57.20,73.12 57.29,73.93 57.39,74.74 57.48,75.56 57.58,76.37 57.67,77.19 57.77,78.00 57.86,78.81 57.96,79.63 58.05,80.44 58.14,81.25 58.23,82.07 58.33,82.88 58.42,83.69 58.51,84.51 58.60,85.32 58.69,86.13 58.78,86.95 58.87,87.76 58.96,88.58 59.05,89.39 59.14,90.20 59.23,91.02 59.32,91.83 59.41,92.64 59.51,93.46 59.60,94.27 59.69,95.08 59.78,95.90 59.87,96.71 59.96,97.52 60.05,98.34 60.14,99.15 60.23,99.97 60.33,100.78 60.42,101.59 60.51,102.41 60.60,103.22 60.70,104.03 60.79,104.85 60.89,105.66 60.98,106.47 61.08,107.29 61.17,108.10 61.27,108.91 61.37,109.73 61.47,110.54 61.56,111.36 61.66,112.17 61.76,112.98 61.86,113.80 61.96,114.61 62.06,115.42 62.16,116.24 62.26,117.05 62.36,117.86 62.46,118.68 62.57,119.49 62.67,120.30 62.78,121.12 62.88,121.93 62.99,122.75 63.10,123.56 63.21,124.37 63.33,125.19 63.44,126.00 63.55,126.81 63.67,127.63 63.79,128.44 63.91,129.25 64.04,130.07 64.18,130.88 64.33,131.69 64.48,132.51 64.65,133.32 64.82,134.14 65.01,134.95 65.20,135.76 65.39,136.58 65.60,137.39 65.82,138.20 66.05,139.02 66.29,139.83 66.53,140.64 66.79,141.46 67.06,142.27 67.33,143.08 67.61,143.90 67.92,144.71 68.23,145.53 68.55,146.34 68.87,147.15 69.19,147.97 69.49,148.78 69.79,149.59 70.09,150.41 70.39,151.22 70.69,152.03 71.00,152.85 71.32,153.66 71.66,154.47 72.02,155.29 72.39,156.10 72.77,156.92 73.17,157.73 73.59,158.54 74.02,159.36 74.46,160.17 74.91,160.98 75.37,161.80 75.84,162.61 76.33,163.42 76.84,164.24 77.39,165.05 77.98,165.86 78.62,166.68 79.31,167.49 80.07,168.31 80.94,169.12 81.94,169.93 83.14,170.75 84.69,171.56 86.66,172.37 89.48,173.19 95.00,174.00 110,174.3" fill="none" stroke="#666" stroke-width="0.8"/><polyline points="51.8,28.2 52.6,35.1 53.3,42.1 54.1,49.2 54.8,56.4 55.6,63.8 56.3,71.4 57.1,78.8 57.8,85.7 58.6,92.3 59.3,98.7 60.1,104.9 60.8,111.1 61.6,117.4 62.3,123.2 63.1,128.1 63.8,132.5 64.6,136.5 65.3,140.3 66.1,143.9 66.8,147.5 67.6,151.1 68.3,154.7 69.1,158.3 69.8,161.8 70.6,165.3 71.3,169.1 72.1,172.9 72.8,175.4 73.6,177.2 74.3,178.7 75.1,180.0 75.8,181.2 76.6,182.4 77.3,183.7 78.1,184.9 78.8,186.0 79.6,186.9 80.3,187.6 81.1,188.0 81.8,188.4 82.6,188.8 83.3,189.0 84.1,189.1 84.8,189.1 85.6,189.0 86.3,188.9 87.1,188.7 87.8,188.5 88.6,188.2 89.3,188.0 90.1,187.7 90.9,187.5 91.6,187.2 92.4,186.8 93.1,186.5 93.9,186.1 94.6,185.7 95.4,185.3 96.1,184.9 96.9,184.4 97.6,184.0 98.4,183.6 99.1,183.2 99.9,182.7 100.6,182.2 101.4,181.7 102.1,181.2 102.9,180.7 103.6,180.2 104.4,179.8 105.1,179.3 105.9,178.9 106.6,178.5 107.4,178.1 108.1,177.8 108.9,177.4 109.6,177.1 110.4,176.7 111.1,176.4 111.9,176.1 112.6,175.8 113.4,175.6 114.1,175.4 114.9,175.2 115.6,175.1 116.4,175.0 117.1,174.9 117.9,174.7 118.6,174.6 119.4,174.5 120.1,174.5 120.9,174.4 121.6,174.3 122.4,174.2 123.1,174.1 123.9,174.1 124.6,174.0 125.4,174.0 126.1,173.9 126.9,173.9 127.7,173.9 128.4,173.8 129.2,173.8 129.9,173.7 130.7,173.7 131.4,173.7 132.2,173.6 132.9,173.6 133.7,173.6 134.4,173.5 135.2,173.5 135.9,173.5 136.7,173.4 137.4,173.4 138.2,173.4 138.9,173.4 139.7,173.4 140.4,173.3 141.2,173.3 141.9,173.3 143.4,173.3 144.9,173.3 146.4,173.3 147.9,173.3 149.4,173.3 150.9,173.3 152.4,173.3 153.9,173.3 155.4,173.3 156.9,173.3 158.4,173.3 159.9,173.3 161.4,173.3 162.9,173.3 164.4,173.4 166.0,173.4 167.5,173.5 169.0,173.6 170.5,173.7 172.0,173.8 173.5,173.9 175.0,174.0 176.5,174.1 178.0,174.2 179.5,174.3 181.0,174.4 182.5,174.6 184.0,174.6 185.5,174.7 187.0,174.8 188.5,174.9 190.0,175.0 191.5,175.0 193.0,175.1 194.5,175.2 196.0,175.3 197.5,175.3 199.0,175.4 200.5,175.5 202.0,175.5 203.5,175.6 205.0,175.6 206.5,175.7 208.0,175.7 209.5,175.7 211.0,175.7 212.5,175.7 214.0,175.7 215.5,175.8 217.0,175.8 218.5,175.8 220.0,175.8 221.5,175.8 223.0,175.8 224.5,175.8 226.0,175.8 227.5,175.8 229.0,175.8 230.5,175.8 232.0,175.8 233.5,175.8 235.0,175.8 236.5,175.8 238.0,175.8 239.6,175.8 241.1,175.8 242.6,175.8 244.1,175.7 245.6,175.7 247.1,175.7 248.6,175.7 250.1,175.7 251.6,175.6 253.1,175.6 254.6,175.6 256.1,175.6 257.6,175.5 259.1,175.5 260.6,175.5 262.1,175.4 263.6,175.4 265.1,175.4 266.6,175.4 268.1,175.3 269.6,175.3 271.1,175.3 272.6,175.2 274.1,175.2 275.6,175.2 277.1,175.1 278.6,175.1 280.1,175.0 281.6,175.0 283.1,175.0 284.6,174.9 286.1,174.9 287.6,174.8 289.1,174.8 290.6,174.7 292.1,174.7 293.6,174.7 295.1,174.6 296.6,174.6 298.1,174.5 299.6,174.5 301.1,174.4 302.6,174.4 304.1,174.4 305.6,174.3 307.1,174.3 308.6,174.3 310.1,174.2 311.6,174.2 313.1,174.2 314.6,174.1 316.2,174.1 317.7,174.1 319.2,174.0 320.7,174.0 322.2,174.0 323.7,174.0 325.2,173.9 326.7,173.9 328.2,173.9 329.7,173.8 331.2,173.8 332.7,173.8 334.2,173.7 335.7,173.7 337.2,173.7 338.7,173.6 340.2,173.6 341.7,173.6 343.2,173.5 344.7,173.5 346.2,173.4 347.7,173.4 349.2,173.4 350.7,173.3 352.2,173.3 353.7,173.3 355.2,173.2 356.7,173.2 358.2,173.1 359.7,173.1 361.2,173.1 362.7,173.0 364.2,173.0 365.7,172.9 367.2,172.9" fill="none" stroke="#d2232c" stroke-width="1.9"/></g><g clip-path="url(#cr)"><polygon points="457.4,239.5 458.2,235.9 458.9,231.1 459.7,225.4 460.4,219.0 461.2,212.1 461.9,204.8 462.7,197.5 463.4,190.2 464.2,183.1 464.9,176.6 465.7,169.9 466.4,163.3 467.2,157.4 467.9,152.1 468.7,147.1 469.4,142.5 470.2,137.9 470.9,133.2 471.7,128.5 472.4,123.7 473.2,119.1 473.9,114.8 474.7,110.9 475.4,107.5 476.2,104.5 476.9,101.9 477.7,99.7 478.4,97.7 479.2,96.0 479.9,94.5 480.7,93.2 481.4,92.0 482.2,91.1 482.9,90.4 483.7,89.9 484.4,89.6 485.2,89.5 485.9,89.7 486.7,90.0 487.4,90.6 488.2,91.3 488.9,92.2 489.7,93.1 490.4,94.3 491.2,95.5 491.9,96.8 492.7,98.1 493.4,99.5 494.2,101.0 494.9,102.4 495.7,103.8 496.5,105.2 497.2,106.6 498.0,108.0 498.7,109.4 499.5,110.8 500.2,112.2 501.0,113.6 501.7,114.9 502.5,116.3 503.2,117.6 504.0,118.9 504.7,120.2 505.5,121.5 506.2,122.7 507.0,124.0 507.7,125.2 508.5,126.4 509.2,127.6 510.0,128.8 510.7,129.9 511.5,131.0 512.2,132.1 513.0,133.2 513.7,134.2 514.5,135.2 515.2,136.2 516.0,137.1 516.7,138.1 517.5,138.9 518.2,139.8 519.0,140.6 519.7,141.4 520.5,142.1 521.2,142.8 522.0,143.5 522.7,144.1 523.5,144.7 524.2,145.3 525.0,145.8 525.7,146.3 526.5,146.7 527.2,147.2 528.0,147.6 528.7,148.0 529.5,148.3 530.2,148.7 531.0,149.0 531.7,149.3 532.5,149.5 533.3,149.8 534.0,150.0 534.8,150.2 535.5,150.4 536.3,150.6 537.0,150.8 537.8,151.0 538.5,151.1 539.3,151.3 540.0,151.4 540.8,151.6 541.5,151.7 542.3,151.8 543.0,151.9 543.8,152.1 544.5,152.2 545.3,152.3 546.0,152.4 546.8,152.5 547.5,152.6 549.0,152.8 550.5,152.9 552.0,153.1 553.5,153.2 555.0,153.3 556.5,153.4 558.0,153.5 559.5,153.5 561.0,153.6 562.5,153.6 564.0,153.7 565.5,153.7 567.0,153.7 568.5,153.7 570.0,153.7 571.6,153.7 573.1,153.7 574.6,153.6 576.1,153.6 577.6,153.6 579.1,153.6 580.6,153.6 582.1,153.5 583.6,153.5 585.1,153.5 586.6,153.5 588.1,153.5 589.6,153.4 591.1,153.4 592.6,153.4 594.1,153.4 595.6,153.4 597.1,153.4 598.6,153.4 600.1,153.4 601.6,153.4 603.1,153.4 604.6,153.4 606.1,153.4 607.6,153.5 609.1,153.5 610.6,153.5 612.1,153.5 613.6,153.6 615.1,153.6 616.6,153.6 618.1,153.7 619.6,153.7 621.1,153.7 622.6,153.8 624.1,153.8 625.6,153.9 627.1,154.0 628.6,154.0 630.1,154.1 631.6,154.2 633.1,154.2 634.6,154.3 636.1,154.4 637.6,154.5 639.1,154.6 640.6,154.7 642.1,154.7 643.6,154.8 645.1,154.9 646.7,155.0 648.2,155.2 649.7,155.3 651.2,155.4 652.7,155.5 654.2,155.6 655.7,155.7 657.2,155.9 658.7,156.0 660.2,156.1 661.7,156.3 663.2,156.4 664.7,156.5 666.2,156.7 667.7,156.8 669.2,157.0 670.7,157.1 672.2,157.3 673.7,157.5 675.2,157.6 676.7,157.8 678.2,158.0 679.7,158.1 681.2,158.3 682.7,158.5 684.2,158.6 685.7,158.8 687.2,159.0 688.7,159.2 690.2,159.4 691.7,159.6 693.2,159.7 694.7,159.9 696.2,160.1 697.7,160.3 699.2,160.5 700.7,160.7 702.2,160.9 703.7,161.1 705.2,161.3 706.7,161.5 708.2,161.7 709.7,161.9 711.2,162.1 712.7,162.3 714.2,162.5 715.7,162.7 717.2,162.9 718.7,163.1 720.2,163.4 721.8,163.6 723.3,163.8 724.8,164.0 726.3,164.2 727.8,164.4 729.3,164.6 730.8,164.8 732.3,165.0 733.8,165.2 735.3,165.5 736.8,165.7 738.3,165.9 739.8,166.1 741.3,166.3 742.8,166.5 744.3,166.7 745.8,166.9 747.3,167.1 748.8,167.4 750.3,167.6 751.8,167.8 753.3,168.0 754.8,168.2 756.3,168.4 757.8,168.6 759.3,168.8 760.8,169.0 762.3,169.2 763.8,169.4 765.3,169.6 766.8,169.8 768.3,170.0 769.8,170.2 771.3,170.4 772.8,170.6 772.8,173.2 771.3,173.0 769.8,172.9 768.3,172.7 766.8,172.6 765.3,172.4 763.8,172.3 762.3,172.1 760.8,172.0 759.3,171.8 757.8,171.6 756.3,171.5 754.8,171.3 753.3,171.2 751.8,171.0 750.3,170.8 748.8,170.7 747.3,170.5 745.8,170.3 744.3,170.2 742.8,170.0 741.3,169.8 739.8,169.7 738.3,169.5 736.8,169.3 735.3,169.2 733.8,169.0 732.3,168.8 730.8,168.7 729.3,168.5 727.8,168.3 726.3,168.2 724.8,168.0 723.3,167.8 721.8,167.7 720.2,167.5 718.7,167.4 717.2,167.2 715.7,167.0 714.2,166.9 712.7,166.7 711.2,166.5 709.7,166.4 708.2,166.2 706.7,166.1 705.2,165.9 703.7,165.8 702.2,165.6 700.7,165.4 699.2,165.3 697.7,165.1 696.2,165.0 694.7,164.8 693.2,164.7 691.7,164.5 690.2,164.4 688.7,164.2 687.2,164.1 685.7,164.0 684.2,163.8 682.7,163.7 681.2,163.5 679.7,163.4 678.2,163.3 676.7,163.1 675.2,163.0 673.7,162.9 672.2,162.8 670.7,162.6 669.2,162.5 667.7,162.4 666.2,162.3 664.7,162.2 663.2,162.1 661.7,162.0 660.2,161.8 658.7,161.7 657.2,161.6 655.7,161.5 654.2,161.4 652.7,161.3 651.2,161.3 649.7,161.2 648.2,161.1 646.7,161.0 645.1,160.9 643.6,160.8 642.1,160.8 640.6,160.7 639.1,160.6 637.6,160.5 636.1,160.5 634.6,160.4 633.1,160.4 631.6,160.3 630.1,160.2 628.6,160.2 627.1,160.1 625.6,160.1 624.1,160.1 622.6,160.0 621.1,160.0 619.6,159.9 618.1,159.9 616.6,159.9 615.1,159.8 613.6,159.8 612.1,159.8 610.6,159.8 609.1,159.8 607.6,159.8 606.1,159.7 604.6,159.7 603.1,159.7 601.6,159.7 600.1,159.7 598.6,159.7 597.1,159.7 595.6,159.7 594.1,159.7 592.6,159.7 591.1,159.7 589.6,159.7 588.1,159.8 586.6,159.8 585.1,159.8 583.6,159.8 582.1,159.8 580.6,159.8 579.1,159.8 577.6,159.9 576.1,159.9 574.6,159.9 573.1,159.9 571.6,159.9 570.0,159.9 568.5,159.9 567.0,159.9 565.5,159.9 564.0,159.9 562.5,159.9 561.0,159.8 559.5,159.8 558.0,159.8 556.5,159.7 555.0,159.6 553.5,159.5 552.0,159.4 550.5,159.3 549.0,159.2 547.5,159.1 546.8,159.0 546.0,158.9 545.3,158.8 544.5,158.7 543.8,158.6 543.0,158.6 542.3,158.5 541.5,158.4 540.8,158.2 540.0,158.1 539.3,158.0 538.5,157.9 537.8,157.8 537.0,157.7 536.3,157.5 535.5,157.4 534.8,157.2 534.0,157.0 533.3,156.9 532.5,156.7 531.7,156.4 531.0,156.2 530.2,156.0 529.5,155.7 528.7,155.4 528.0,155.1 527.2,154.8 526.5,154.5 525.7,154.1 525.0,153.7 524.2,153.3 523.5,152.9 522.7,152.4 522.0,151.9 521.2,151.4 520.5,150.8 519.7,150.3 519.0,149.6 518.2,149.0 517.5,148.3 516.7,147.6 516.0,146.9 515.2,146.2 514.5,145.4 513.7,144.6 513.0,143.8 512.2,143.0 511.5,142.1 510.7,141.2 510.0,140.3 509.2,139.4 508.5,138.5 507.7,137.5 507.0,136.6 506.2,135.6 505.5,134.6 504.7,133.6 504.0,132.6 503.2,131.6 502.5,130.5 501.7,129.5 501.0,128.4 500.2,127.3 499.5,126.3 498.7,125.2 498.0,124.1 497.2,123.0 496.5,121.9 495.7,120.7 494.9,119.6 494.2,118.5 493.4,117.4 492.7,116.3 491.9,115.2 491.2,114.2 490.4,113.2 489.7,112.4 488.9,111.6 488.2,110.9 487.4,110.3 486.7,109.9 485.9,109.6 485.2,109.5 484.4,109.6 483.7,109.8 482.9,110.2 482.2,110.8 481.4,111.5 480.7,112.4 479.9,113.4 479.2,114.6 478.4,116.0 477.7,117.5 476.9,119.3 476.2,121.3 475.4,123.6 474.7,126.3 473.9,129.4 473.2,132.8 472.4,136.4 471.7,140.1 470.9,143.9 470.2,147.5 469.4,151.1 468.7,154.8 467.9,158.7 467.2,162.8 466.4,167.5 465.7,172.7 464.9,179.5 464.2,187.9 463.4,196.8 462.7,206.1 461.9,215.5 461.2,224.7 460.4,233.5 459.7,241.7 458.9,248.9 458.2,255.0 457.4,259.6" fill="#e6e6e6" stroke="none"/><polyline points="457.4,280.8 458.2,277.6 458.9,272.3 459.7,265.3 460.4,256.7 461.2,247.0 461.9,236.5 462.7,225.3 463.4,214.0 464.2,202.6 464.9,191.7 465.7,180.3 466.4,170.2 467.2,161.4 467.9,153.6 468.7,146.7 469.4,140.3 470.2,134.1 470.9,127.9 471.7,121.6 472.4,115.2 473.2,109.0 473.9,103.2 474.7,98.5 475.4,94.3 476.2,90.7 476.9,87.5 477.7,84.8 478.4,82.4 479.2,80.3 479.9,78.5 480.7,76.8 481.4,75.4 482.2,74.3 482.9,73.4 483.7,72.7 484.4,72.3 485.2,72.2 485.9,72.4 486.7,72.8 487.4,73.4 488.2,74.2 488.9,75.2 489.7,76.4 490.4,77.7 491.2,79.1 491.9,80.6 492.7,82.2 493.4,83.8 494.2,85.5 494.9,87.1 495.7,88.8 496.5,90.5 497.2,92.1 498.0,93.7 498.7,95.3 499.5,96.9 500.2,98.5 501.0,100.1 501.7,101.7 502.5,103.2 503.2,104.8 504.0,106.3 504.7,107.8 505.5,109.3 506.2,110.7 507.0,112.2 507.7,113.6 508.5,115.0 509.2,116.4 510.0,117.8 510.7,119.1 511.5,120.5 512.2,121.8 513.0,123.1 513.7,124.3 514.5,125.5 515.2,126.7 516.0,127.9 516.7,129.0 517.5,130.1 518.2,131.2 519.0,132.2 519.7,133.2 520.5,134.1 521.2,135.0 522.0,135.9 522.7,136.7 523.5,137.5 524.2,138.2 525.0,138.9 525.7,139.6 526.5,140.2 527.2,140.8 528.0,141.4 528.7,142.0 529.5,142.5 530.2,142.9 531.0,143.4 531.7,143.8 532.5,144.2 533.3,144.6 534.0,145.0 534.8,145.3 535.5,145.6 536.3,145.9 537.0,146.2 537.8,146.5 538.5,146.7 539.3,146.9 540.0,147.2 540.8,147.4 541.5,147.6 542.3,147.8 543.0,148.0 543.8,148.2 544.5,148.3 545.3,148.5 546.0,148.7 546.8,148.8 547.5,148.9 549.0,149.2 550.5,149.4 552.0,149.6 553.5,149.8 555.0,150.0 556.5,150.1 558.0,150.2 559.5,150.3 561.0,150.4 562.5,150.4 564.0,150.5 565.5,150.5 567.0,150.5 568.5,150.5 570.0,150.5 571.6,150.5 573.1,150.5 574.6,150.5 576.1,150.4 577.6,150.4 579.1,150.4 580.6,150.4 582.1,150.3 583.6,150.3 585.1,150.3 586.6,150.3 588.1,150.2 589.6,150.2 591.1,150.2 592.6,150.2 594.1,150.2 595.6,150.2 597.1,150.2 598.6,150.2 600.1,150.2 601.6,150.2 603.1,150.2 604.6,150.2 606.1,150.2 607.6,150.2 609.1,150.3 610.6,150.3 612.1,150.3 613.6,150.3 615.1,150.4 616.6,150.4 618.1,150.5 619.6,150.5 621.1,150.6 622.6,150.6 624.1,150.7 625.6,150.7 627.1,150.7 628.6,150.7 630.1,150.8 631.6,150.8 633.1,150.9 634.6,150.9 636.1,151.0 637.6,151.0 639.1,151.1 640.6,151.1 642.1,151.2 643.6,151.3 645.1,151.4 646.7,151.4 648.2,151.5 649.7,151.6 651.2,151.7 652.7,151.8 654.2,151.9 655.7,152.0 657.2,152.1 658.7,152.2 660.2,152.4 661.7,152.5 663.2,152.6 664.7,152.7 666.2,152.9 667.7,153.0 669.2,153.1 670.7,153.3 672.2,153.4 673.7,153.6 675.2,153.7 676.7,153.9 678.2,154.0 679.7,154.2 681.2,154.4 682.7,154.5 684.2,154.7 685.7,154.9 687.2,155.0 688.7,155.2 690.2,155.4 691.7,155.6 693.2,155.8 694.7,155.9 696.2,156.1 697.7,156.3 699.2,156.5 700.7,156.7 702.2,156.9 703.7,157.1 705.2,157.3 706.7,157.5 708.2,157.7 709.7,157.9 711.2,158.1 712.7,158.3 714.2,158.5 715.7,158.7 717.2,158.9 718.7,159.1 720.2,159.3 721.8,159.6 723.3,159.8 724.8,160.0 726.3,160.2 727.8,160.4 729.3,160.6 730.8,160.8 732.3,161.0 733.8,161.2 735.3,161.5 736.8,161.7 738.3,161.9 739.8,162.1 741.3,162.3 742.8,162.5 744.3,162.7 745.8,162.9 747.3,163.1 748.8,163.4 750.3,163.6 751.8,163.8 753.3,164.0 754.8,164.2 756.3,164.4 757.8,164.6 759.3,164.8 760.8,165.0 762.3,165.2 763.8,165.4 765.3,165.6 766.8,165.8 768.3,166.0 769.8,166.2 771.3,166.3 772.8,166.5" fill="none" stroke="#858585" stroke-width="0.95" stroke-dasharray="2.7,2.3"/><polyline points="457.4,272.9 458.2,270.0 458.9,265.1 459.7,258.6 460.4,250.7 461.2,241.7 461.9,231.9 462.7,221.6 463.4,211.0 464.2,200.5 464.9,190.4 465.7,179.9 466.4,170.5 467.2,162.4 467.9,155.2 468.7,148.7 469.4,142.8 470.2,137.0 470.9,131.3 471.7,125.5 472.4,119.6 473.2,113.8 473.9,108.4 474.7,104.1 475.4,100.2 476.2,96.8 476.9,93.9 477.7,91.4 478.4,89.2 479.2,87.2 479.9,85.5 480.7,84.0 481.4,82.7 482.2,81.6 482.9,80.8 483.7,80.2 484.4,79.8 485.2,79.7 485.9,79.9 486.7,80.2 487.4,80.8 488.2,81.5 488.9,82.4 489.7,83.5 490.4,84.7 491.2,86.0 491.9,87.4 492.7,88.9 493.4,90.4 494.2,91.9 494.9,93.5 495.7,95.0 496.5,96.5 497.2,98.0 498.0,99.5 498.7,101.0 499.5,102.5 500.2,104.0 501.0,105.4 501.7,106.9 502.5,108.3 503.2,109.7 504.0,111.1 504.7,112.5 505.5,113.9 506.2,115.2 507.0,116.6 507.7,117.9 508.5,119.2 509.2,120.5 510.0,121.8 510.7,123.0 511.5,124.2 512.2,125.5 513.0,126.6 513.7,127.8 514.5,128.9 515.2,130.0 516.0,131.1 516.7,132.2 517.5,133.2 518.2,134.2 519.0,135.1 519.7,136.0 520.5,136.9 521.2,137.7 522.0,138.5 522.7,139.3 523.5,140.0 524.2,140.7 525.0,141.4 525.7,142.0 526.5,142.6 527.2,143.2 528.0,143.7 528.7,144.2 529.5,144.7 530.2,145.1 531.0,145.6 531.7,146.0 532.5,146.3 533.3,146.7 534.0,147.0 534.8,147.4 535.5,147.7 536.3,147.9 537.0,148.2 537.8,148.4 538.5,148.7 539.3,148.9 540.0,149.1 540.8,149.3 541.5,149.5 542.3,149.7 543.0,149.9 543.8,150.1 544.5,150.2 545.3,150.4 546.0,150.5 546.8,150.7 547.5,150.8 549.0,151.0 550.5,151.3 552.0,151.4 553.5,151.6 555.0,151.8 556.5,151.9 558.0,152.0 559.5,152.1 561.0,152.1 562.5,152.2 564.0,152.2 565.5,152.2 567.0,152.3 568.5,152.3 570.0,152.3 571.6,152.3 573.1,152.2 574.6,152.2 576.1,152.2 577.6,152.2 579.1,152.1 580.6,152.1 582.1,152.1 583.6,152.1 585.1,152.0 586.6,152.0 588.1,152.0 589.6,152.0 591.1,152.0 592.6,152.0 594.1,152.0 595.6,152.0 597.1,152.0 598.6,151.9 600.1,152.0 601.6,152.0 603.1,152.0 604.6,152.0 606.1,152.0 607.6,152.0 609.1,152.0 610.6,152.1 612.1,152.1 613.6,152.1 615.1,152.1 616.6,152.2 618.1,152.2 619.6,152.3 621.1,152.3 622.6,152.4 624.1,152.4 625.6,152.4 627.1,152.5 628.6,152.5 630.1,152.6 631.6,152.6 633.1,152.7 634.6,152.7 636.1,152.8 637.6,152.8 639.1,152.9 640.6,153.0 642.1,153.0 643.6,153.1 645.1,153.2 646.7,153.3 648.2,153.4 649.7,153.5 651.2,153.6 652.7,153.7 654.2,153.8 655.7,153.9 657.2,154.0 658.7,154.1 660.2,154.2 661.7,154.3 663.2,154.5 664.7,154.6 666.2,154.7 667.7,154.9 669.2,155.0 670.7,155.1 672.2,155.3 673.7,155.4 675.2,155.6 676.7,155.7 678.2,155.9 679.7,156.0 681.2,156.2 682.7,156.4 684.2,156.5 685.7,156.7 687.2,156.9 688.7,157.0 690.2,157.2 691.7,157.4 693.2,157.6 694.7,157.8 696.2,157.9 697.7,158.1 699.2,158.3 700.7,158.5 702.2,158.7 703.7,158.9 705.2,159.1 706.7,159.3 708.2,159.5 709.7,159.7 711.2,159.9 712.7,160.0 714.2,160.2 715.7,160.4 717.2,160.7 718.7,160.9 720.2,161.1 721.8,161.3 723.3,161.5 724.8,161.7 726.3,161.9 727.8,162.1 729.3,162.3 730.8,162.5 732.3,162.7 733.8,162.9 735.3,163.1 736.8,163.3 738.3,163.5 739.8,163.7 741.3,163.9 742.8,164.1 744.3,164.3 745.8,164.5 747.3,164.8 748.8,165.0 750.3,165.2 751.8,165.4 753.3,165.6 754.8,165.8 756.3,166.0 757.8,166.2 759.3,166.4 760.8,166.5 762.3,166.7 763.8,166.9 765.3,167.1 766.8,167.3 768.3,167.5 769.8,167.7 771.3,167.9 772.8,168.1" fill="none" stroke="#858585" stroke-width="0.95" stroke-dasharray="2.7,2.3"/><polyline points="457.4,263.2 458.2,260.5 458.9,256.1 459.7,250.2 460.4,243.1 461.2,235.0 461.9,226.2 462.7,216.9 463.4,207.4 464.2,197.9 464.9,188.8 465.7,179.3 466.4,170.9 467.2,163.5 467.9,157.1 468.7,151.3 469.4,145.9 470.2,140.8 470.9,135.6 471.7,130.3 472.4,125.0 473.2,119.8 473.9,115.0 474.7,111.0 475.4,107.6 476.2,104.6 476.9,101.9 477.7,99.7 478.4,97.7 479.2,95.9 479.9,94.4 480.7,93.0 481.4,91.9 482.2,90.9 482.9,90.2 483.7,89.6 484.4,89.3 485.2,89.3 485.9,89.4 486.7,89.7 487.4,90.3 488.2,90.9 488.9,91.8 489.7,92.8 490.4,93.9 491.2,95.1 491.9,96.4 492.7,97.7 493.4,99.1 494.2,100.5 494.9,101.9 495.7,103.3 496.5,104.7 497.2,106.1 498.0,107.5 498.7,108.9 499.5,110.2 500.2,111.6 501.0,112.9 501.7,114.3 502.5,115.6 503.2,116.9 504.0,118.2 504.7,119.5 505.5,120.7 506.2,122.0 507.0,123.2 507.7,124.4 508.5,125.6 509.2,126.8 510.0,128.0 510.7,129.1 511.5,130.2 512.2,131.3 513.0,132.4 513.7,133.4 514.5,134.4 515.2,135.4 516.0,136.4 516.7,137.3 517.5,138.3 518.2,139.1 519.0,140.0 519.7,140.8 520.5,141.6 521.2,142.3 522.0,143.0 522.7,143.7 523.5,144.3 524.2,144.9 525.0,145.5 525.7,146.0 526.5,146.5 527.2,147.0 528.0,147.4 528.7,147.8 529.5,148.2 530.2,148.6 531.0,149.0 531.7,149.3 532.5,149.6 533.3,149.9 534.0,150.2 534.8,150.4 535.5,150.7 536.3,150.9 537.0,151.1 537.8,151.3 538.5,151.5 539.3,151.7 540.0,151.8 540.8,152.0 541.5,152.2 542.3,152.3 543.0,152.5 543.8,152.6 544.5,152.7 545.3,152.9 546.0,153.0 546.8,153.1 547.5,153.2 549.0,153.4 550.5,153.6 552.0,153.8 553.5,153.9 555.0,154.0 556.5,154.1 558.0,154.2 559.5,154.3 561.0,154.3 562.5,154.4 564.0,154.4 565.5,154.4 567.0,154.4 568.5,154.5 570.0,154.4 571.6,154.4 573.1,154.4 574.6,154.4 576.1,154.4 577.6,154.4 579.1,154.3 580.6,154.3 582.1,154.3 583.6,154.3 585.1,154.3 586.6,154.2 588.1,154.2 589.6,154.2 591.1,154.2 592.6,154.2 594.1,154.2 595.6,154.2 597.1,154.2 598.6,154.2 600.1,154.2 601.6,154.2 603.1,154.2 604.6,154.2 606.1,154.2 607.6,154.2 609.1,154.2 610.6,154.3 612.1,154.3 613.6,154.3 615.1,154.3 616.6,154.4 618.1,154.4 619.6,154.5 621.1,154.5 622.6,154.6 624.1,154.6 625.6,154.7 627.1,154.7 628.6,154.8 630.1,154.9 631.6,154.9 633.1,155.0 634.6,155.1 636.1,155.2 637.6,155.2 639.1,155.3 640.6,155.4 642.1,155.5 643.6,155.6 645.1,155.7 646.7,155.8 648.2,155.9 649.7,156.0 651.2,156.2 652.7,156.3 654.2,156.4 655.7,156.5 657.2,156.7 658.7,156.8 660.2,156.9 661.7,157.1 663.2,157.2 664.7,157.3 666.2,157.5 667.7,157.6 669.2,157.8 670.7,158.0 672.2,158.1 673.7,158.3 675.2,158.4 676.7,158.6 678.2,158.8 679.7,158.9 681.2,159.1 682.7,159.3 684.2,159.5 685.7,159.6 687.2,159.8 688.7,160.0 690.2,160.2 691.7,160.4 693.2,160.6 694.7,160.8 696.2,161.0 697.7,161.2 699.2,161.4 700.7,161.6 702.2,161.8 703.7,162.0 705.2,162.2 706.7,162.4 708.2,162.6 709.7,162.8 711.2,163.0 712.7,163.2 714.2,163.4 715.7,163.6 717.2,163.8 718.7,164.0 720.2,164.2 721.8,164.5 723.3,164.7 724.8,164.9 726.3,165.1 727.8,165.3 729.3,165.5 730.8,165.7 732.3,165.9 733.8,166.2 735.3,166.4 736.8,166.6 738.3,166.8 739.8,167.0 741.3,167.2 742.8,167.4 744.3,167.7 745.8,167.9 747.3,168.1 748.8,168.3 750.3,168.5 751.8,168.7 753.3,168.9 754.8,169.1 756.3,169.3 757.8,169.6 759.3,169.8 760.8,170.0 762.3,170.2 763.8,170.4 765.3,170.6 766.8,170.8 768.3,171.0 769.8,171.2 771.3,171.4 772.8,171.5" fill="none" stroke="#858585" stroke-width="0.95" stroke-dasharray="2.7,2.3"/><polyline points="457.4,256.5 458.2,254.0 458.9,250.0 459.7,244.5 460.4,237.9 461.2,230.5 461.9,222.3 462.7,213.7 463.4,204.9 464.2,196.2 464.9,187.7 465.7,179.0 466.4,171.2 467.2,164.4 467.9,158.4 468.7,153.0 469.4,148.0 470.2,143.3 470.9,138.5 471.7,133.6 472.4,128.7 473.2,123.9 473.9,119.5 474.7,115.8 475.4,112.6 476.2,109.8 476.9,107.4 477.7,105.3 478.4,103.5 479.2,101.9 479.9,100.5 480.7,99.2 481.4,98.1 482.2,97.3 482.9,96.6 483.7,96.1 484.4,95.8 485.2,95.8 485.9,95.9 486.7,96.3 487.4,96.8 488.2,97.4 488.9,98.2 489.7,99.2 490.4,100.2 491.2,101.4 491.9,102.6 492.7,103.9 493.4,105.2 494.2,106.5 494.9,107.8 495.7,109.2 496.5,110.5 497.2,111.8 498.0,113.1 498.7,114.5 499.5,115.8 500.2,117.0 501.0,118.3 501.7,119.6 502.5,120.8 503.2,122.1 504.0,123.3 504.7,124.5 505.5,125.7 506.2,126.9 507.0,128.1 507.7,129.2 508.5,130.4 509.2,131.5 510.0,132.6 510.7,133.6 511.5,134.7 512.2,135.7 513.0,136.7 513.7,137.7 514.5,138.6 515.2,139.5 516.0,140.4 516.7,141.3 517.5,142.1 518.2,142.9 519.0,143.7 519.7,144.4 520.5,145.1 521.2,145.8 522.0,146.4 522.7,147.0 523.5,147.5 524.2,148.0 525.0,148.5 525.7,149.0 526.5,149.4 527.2,149.8 528.0,150.2 528.7,150.6 529.5,150.9 530.2,151.2 531.0,151.5 531.7,151.8 532.5,152.0 533.3,152.3 534.0,152.5 534.8,152.7 535.5,152.9 536.3,153.1 537.0,153.2 537.8,153.4 538.5,153.5 539.3,153.7 540.0,153.8 540.8,153.9 541.5,154.1 542.3,154.2 543.0,154.3 543.8,154.4 544.5,154.5 545.3,154.6 546.0,154.7 546.8,154.8 547.5,154.9 549.0,155.1 550.5,155.2 552.0,155.3 553.5,155.5 555.0,155.6 556.5,155.6 558.0,155.7 559.5,155.8 561.0,155.8 562.5,155.9 564.0,155.9 565.5,155.9 567.0,155.9 568.5,155.9 570.0,155.9 571.6,155.9 573.1,155.9 574.6,155.9 576.1,155.9 577.6,155.9 579.1,155.8 580.6,155.8 582.1,155.8 583.6,155.8 585.1,155.8 586.6,155.7 588.1,155.7 589.6,155.7 591.1,155.7 592.6,155.7 594.1,155.7 595.6,155.7 597.1,155.7 598.6,155.7 600.1,155.7 601.6,155.7 603.1,155.7 604.6,155.7 606.1,155.7 607.6,155.7 609.1,155.7 610.6,155.8 612.1,155.8 613.6,155.8 615.1,155.8 616.6,155.9 618.1,155.9 619.6,155.9 621.1,156.0 622.6,156.0 624.1,156.1 625.6,156.1 627.1,156.2 628.6,156.2 630.1,156.2 631.6,156.3 633.1,156.4 634.6,156.4 636.1,156.5 637.6,156.5 639.1,156.6 640.6,156.7 642.1,156.8 643.6,156.8 645.1,156.9 646.7,157.0 648.2,157.1 649.7,157.2 651.2,157.3 652.7,157.4 654.2,157.5 655.7,157.6 657.2,157.7 658.7,157.8 660.2,157.9 661.7,158.0 663.2,158.1 664.7,158.3 666.2,158.4 667.7,158.5 669.2,158.6 670.7,158.8 672.2,158.9 673.7,159.0 675.2,159.2 676.7,159.3 678.2,159.5 679.7,159.6 681.2,159.8 682.7,159.9 684.2,160.1 685.7,160.2 687.2,160.4 688.7,160.5 690.2,160.7 691.7,160.8 693.2,161.0 694.7,161.2 696.2,161.3 697.7,161.5 699.2,161.7 700.7,161.8 702.2,162.0 703.7,162.2 705.2,162.4 706.7,162.5 708.2,162.7 709.7,162.9 711.2,163.1 712.7,163.3 714.2,163.4 715.7,163.6 717.2,163.8 718.7,164.0 720.2,164.2 721.8,164.3 723.3,164.5 724.8,164.7 726.3,164.9 727.8,165.1 729.3,165.3 730.8,165.5 732.3,165.6 733.8,165.8 735.3,166.0 736.8,166.2 738.3,166.4 739.8,166.6 741.3,166.8 742.8,166.9 744.3,167.1 745.8,167.3 747.3,167.5 748.8,167.7 750.3,167.9 751.8,168.0 753.3,168.2 754.8,168.4 756.3,168.6 757.8,168.8 759.3,168.9 760.8,169.1 762.3,169.3 763.8,169.5 765.3,169.6 766.8,169.8 768.3,170.0 769.8,170.1 771.3,170.3 772.8,170.5" fill="none" stroke="#858585" stroke-width="0.95" stroke-dasharray="2.7,2.3"/><polyline points="457.4,246.3 458.2,244.2 458.9,240.6 459.7,235.8 460.4,230.1 461.2,223.5 461.9,216.4 462.7,208.8 463.4,201.1 464.2,193.5 464.9,186.1 465.7,178.4 466.4,171.6 467.2,165.6 467.9,160.4 468.7,155.7 469.4,151.3 470.2,147.1 470.9,143.0 471.7,138.7 472.4,134.4 473.2,130.2 473.9,126.3 474.7,123.1 475.4,120.3 476.2,117.9 476.9,115.8 477.7,114.0 478.4,112.4 479.2,111.0 479.9,109.8 480.7,108.7 481.4,107.8 482.2,107.0 482.9,106.5 483.7,106.1 484.4,105.9 485.2,105.9 485.9,106.0 486.7,106.4 487.4,106.9 488.2,107.5 488.9,108.2 489.7,109.1 490.4,110.1 491.2,111.1 491.9,112.3 492.7,113.5 493.4,114.7 494.2,115.9 494.9,117.2 495.7,118.4 496.5,119.6 497.2,120.9 498.0,122.1 498.7,123.3 499.5,124.5 500.2,125.7 501.0,126.9 501.7,128.1 502.5,129.3 503.2,130.5 504.0,131.6 504.7,132.7 505.5,133.9 506.2,135.0 507.0,136.0 507.7,137.1 508.5,138.1 509.2,139.2 510.0,140.2 510.7,141.1 511.5,142.1 512.2,143.0 513.0,143.9 513.7,144.8 514.5,145.6 515.2,146.4 516.0,147.2 516.7,147.9 517.5,148.6 518.2,149.3 519.0,149.9 519.7,150.5 520.5,151.1 521.2,151.6 522.0,152.1 522.7,152.5 523.5,153.0 524.2,153.3 525.0,153.7 525.7,154.0 526.5,154.3 527.2,154.6 528.0,154.9 528.7,155.1 529.5,155.3 530.2,155.5 531.0,155.7 531.7,155.9 532.5,156.0 533.3,156.1 534.0,156.3 534.8,156.4 535.5,156.5 536.3,156.6 537.0,156.6 537.8,156.7 538.5,156.8 539.3,156.9 540.0,156.9 540.8,157.0 541.5,157.1 542.3,157.1 543.0,157.2 543.8,157.2 544.5,157.3 545.3,157.3 546.0,157.4 546.8,157.5 547.5,157.5 549.0,157.6 550.5,157.7 552.0,157.8 553.5,157.9 555.0,157.9 556.5,158.0 558.0,158.1 559.5,158.1 561.0,158.1 562.5,158.2 564.0,158.2 565.5,158.2 567.0,158.2 568.5,158.2 570.0,158.2 571.6,158.2 573.1,158.2 574.6,158.2 576.1,158.2 577.6,158.1 579.1,158.1 580.6,158.1 582.1,158.1 583.6,158.1 585.1,158.0 586.6,158.0 588.1,158.0 589.6,158.0 591.1,158.0 592.6,158.0 594.1,158.0 595.6,158.0 597.1,158.0 598.6,158.0 600.1,158.0 601.6,158.0 603.1,158.0 604.6,158.0 606.1,158.0 607.6,158.0 609.1,158.0 610.6,158.1 612.1,158.1 613.6,158.1 615.1,158.1 616.6,158.2 618.1,158.2 619.6,158.2 621.1,158.3 622.6,158.3 624.1,158.4 625.6,158.4 627.1,158.5 628.6,158.6 630.1,158.6 631.6,158.7 633.1,158.8 634.6,158.9 636.1,159.0 637.6,159.0 639.1,159.1 640.6,159.2 642.1,159.3 643.6,159.4 645.1,159.5 646.7,159.6 648.2,159.7 649.7,159.8 651.2,160.0 652.7,160.1 654.2,160.2 655.7,160.3 657.2,160.4 658.7,160.6 660.2,160.7 661.7,160.8 663.2,161.0 664.7,161.1 666.2,161.2 667.7,161.4 669.2,161.5 670.7,161.7 672.2,161.8 673.7,162.0 675.2,162.1 676.7,162.3 678.2,162.4 679.7,162.6 681.2,162.7 682.7,162.9 684.2,163.1 685.7,163.2 687.2,163.4 688.7,163.6 690.2,163.7 691.7,163.9 693.2,164.1 694.7,164.3 696.2,164.4 697.7,164.6 699.2,164.8 700.7,165.0 702.2,165.1 703.7,165.3 705.2,165.5 706.7,165.7 708.2,165.9 709.7,166.1 711.2,166.3 712.7,166.4 714.2,166.6 715.7,166.8 717.2,167.0 718.7,167.2 720.2,167.4 721.8,167.6 723.3,167.8 724.8,168.0 726.3,168.2 727.8,168.3 729.3,168.5 730.8,168.7 732.3,168.9 733.8,169.1 735.3,169.3 736.8,169.5 738.3,169.7 739.8,169.9 741.3,170.1 742.8,170.3 744.3,170.5 745.8,170.7 747.3,170.9 748.8,171.0 750.3,171.2 751.8,171.4 753.3,171.6 754.8,171.8 756.3,172.0 757.8,172.2 759.3,172.4 760.8,172.5 762.3,172.7 763.8,172.9 765.3,173.1 766.8,173.3 768.3,173.5 769.8,173.6 771.3,173.8 772.8,174.0" fill="none" stroke="#858585" stroke-width="0.95" stroke-dasharray="2.7,2.3"/><polyline points="457.4,238.5 458.2,236.6 458.9,233.4 459.7,229.1 460.4,224.0 461.2,218.2 461.9,211.8 462.7,205.1 463.4,198.2 464.2,191.4 464.9,184.8 465.7,178.0 466.4,171.9 467.2,166.6 467.9,161.9 468.7,157.7 469.4,153.8 470.2,150.1 470.9,146.4 471.7,142.6 472.4,138.8 473.2,135.1 473.9,131.6 474.7,128.8 475.4,126.3 476.2,124.2 476.9,122.3 477.7,120.7 478.4,119.3 479.2,118.1 479.9,117.0 480.7,116.1 481.4,115.3 482.2,114.7 482.9,114.2 483.7,113.9 484.4,113.8 485.2,113.8 485.9,114.0 486.7,114.4 487.4,114.9 488.2,115.5 488.9,116.2 489.7,117.1 490.4,118.0 491.2,119.0 491.9,120.1 492.7,121.3 493.4,122.4 494.2,123.6 494.9,124.8 495.7,126.0 496.5,127.2 497.2,128.4 498.0,129.6 498.7,130.8 499.5,132.0 500.2,133.2 501.0,134.4 501.7,135.5 502.5,136.7 503.2,137.8 504.0,139.0 504.7,140.1 505.5,141.1 506.2,142.2 507.0,143.3 507.7,144.3 508.5,145.3 509.2,146.2 510.0,147.2 510.7,148.1 511.5,149.0 512.2,149.8 513.0,150.6 513.7,151.4 514.5,152.2 515.2,152.9 516.0,153.6 516.7,154.2 517.5,154.8 518.2,155.3 519.0,155.9 519.7,156.3 520.5,156.8 521.2,157.2 522.0,157.5 522.7,157.9 523.5,158.2 524.2,158.4 525.0,158.6 525.7,158.8 526.5,159.0 527.2,159.2 528.0,159.3 528.7,159.4 529.5,159.5 530.2,159.5 531.0,159.6 531.7,159.6 532.5,159.7 533.3,159.7 534.0,159.7 534.8,159.7 535.5,159.7 536.3,159.7 537.0,159.7 537.8,159.6 538.5,159.6 539.3,159.6 540.0,159.6 540.8,159.6 541.5,159.6 542.3,159.6 543.0,159.6 543.8,159.6 544.5,159.6 545.3,159.6 546.0,159.6 546.8,159.6 547.5,159.6 549.0,159.7 550.5,159.7 552.0,159.7 553.5,159.8 555.0,159.8 556.5,159.8 558.0,159.9 559.5,159.9 561.0,159.9 562.5,159.9 564.0,160.0 565.5,160.0 567.0,160.0 568.5,160.0 570.0,160.0 571.6,160.0 573.1,159.9 574.6,159.9 576.1,159.9 577.6,159.9 579.1,159.9 580.6,159.9 582.1,159.8 583.6,159.8 585.1,159.8 586.6,159.8 588.1,159.8 589.6,159.8 591.1,159.8 592.6,159.8 594.1,159.8 595.6,159.8 597.1,159.8 598.6,159.8 600.1,159.8 601.6,159.8 603.1,159.8 604.6,159.8 606.1,159.8 607.6,159.8 609.1,159.8 610.6,159.8 612.1,159.8 613.6,159.9 615.1,159.9 616.6,159.9 618.1,159.9 619.6,160.0 621.1,160.0 622.6,160.0 624.1,160.1 625.6,160.2 627.1,160.3 628.6,160.4 630.1,160.4 631.6,160.5 633.1,160.6 634.6,160.7 636.1,160.8 637.6,160.9 639.1,161.0 640.6,161.1 642.1,161.2 643.6,161.3 645.1,161.5 646.7,161.6 648.2,161.7 649.7,161.8 651.2,161.9 652.7,162.0 654.2,162.2 655.7,162.3 657.2,162.4 658.7,162.6 660.2,162.7 661.7,162.8 663.2,163.0 664.7,163.1 666.2,163.3 667.7,163.4 669.2,163.6 670.7,163.7 672.2,163.9 673.7,164.0 675.2,164.2 676.7,164.3 678.2,164.5 679.7,164.7 681.2,164.8 682.7,165.0 684.2,165.2 685.7,165.3 687.2,165.5 688.7,165.7 690.2,165.8 691.7,166.0 693.2,166.2 694.7,166.4 696.2,166.5 697.7,166.7 699.2,166.9 700.7,167.1 702.2,167.3 703.7,167.4 705.2,167.6 706.7,167.8 708.2,168.0 709.7,168.2 711.2,168.4 712.7,168.6 714.2,168.8 715.7,168.9 717.2,169.1 718.7,169.3 720.2,169.5 721.8,169.7 723.3,169.9 724.8,170.1 726.3,170.3 727.8,170.5 729.3,170.7 730.8,170.9 732.3,171.1 733.8,171.3 735.3,171.4 736.8,171.6 738.3,171.8 739.8,172.0 741.3,172.2 742.8,172.4 744.3,172.6 745.8,172.8 747.3,173.0 748.8,173.2 750.3,173.4 751.8,173.6 753.3,173.7 754.8,173.9 756.3,174.1 757.8,174.3 759.3,174.5 760.8,174.7 762.3,174.9 763.8,175.1 765.3,175.2 766.8,175.4 768.3,175.6 769.8,175.8 771.3,176.0 772.8,176.1" fill="none" stroke="#858585" stroke-width="0.95" stroke-dasharray="2.7,2.3"/><polyline points="457.4,228.3 458.2,226.7 458.9,224.0 459.7,220.5 460.4,216.1 461.2,211.2 461.9,205.9 462.7,200.2 463.4,194.4 464.2,188.7 464.9,183.1 465.7,177.4 466.4,172.3 467.2,167.8 467.9,163.9 468.7,160.4 469.4,157.1 470.2,154.0 470.9,150.9 471.7,147.7 472.4,144.5 473.2,141.4 473.9,138.5 474.7,136.1 475.4,134.0 476.2,132.2 476.9,130.7 477.7,129.3 478.4,128.2 479.2,127.2 479.9,126.3 480.7,125.5 481.4,124.9 482.2,124.4 482.9,124.0 483.7,123.8 484.4,123.7 485.2,123.8 485.9,124.0 486.7,124.4 487.4,124.8 488.2,125.4 488.9,126.1 489.7,126.8 490.4,127.7 491.2,128.6 491.9,129.6 492.7,130.6 493.4,131.7 494.2,132.8 494.9,133.9 495.7,135.0 496.5,136.1 497.2,137.1 498.0,138.2 498.7,139.3 499.5,140.4 500.2,141.5 501.0,142.6 501.7,143.6 502.5,144.7 503.2,145.7 504.0,146.8 504.7,147.8 505.5,148.8 506.2,149.7 507.0,150.7 507.7,151.6 508.5,152.5 509.2,153.3 510.0,154.2 510.7,155.0 511.5,155.8 512.2,156.5 513.0,157.2 513.7,157.9 514.5,158.5 515.2,159.1 516.0,159.7 516.7,160.2 517.5,160.6 518.2,161.1 519.0,161.5 519.7,161.8 520.5,162.2 521.2,162.4 522.0,162.7 522.7,162.9 523.5,163.1 524.2,163.2 525.0,163.3 525.7,163.4 526.5,163.5 527.2,163.5 528.0,163.5 528.7,163.5 529.5,163.5 530.2,163.5 531.0,163.5 531.7,163.4 532.5,163.3 533.3,163.3 534.0,163.2 534.8,163.1 535.5,163.0 536.3,163.0 537.0,162.9 537.8,162.8 538.5,162.7 539.3,162.6 540.0,162.6 540.8,162.5 541.5,162.5 542.3,162.4 543.0,162.4 543.8,162.3 544.5,162.3 545.3,162.3 546.0,162.2 546.8,162.2 547.5,162.2 549.0,162.2 550.5,162.2 552.0,162.2 553.5,162.2 555.0,162.2 556.5,162.2 558.0,162.2 559.5,162.2 561.0,162.2 562.5,162.2 564.0,162.2 565.5,162.2 567.0,162.2 568.5,162.2 570.0,162.2 571.6,162.2 573.1,162.2 574.6,162.2 576.1,162.2 577.6,162.2 579.1,162.2 580.6,162.2 582.1,162.1 583.6,162.1 585.1,162.1 586.6,162.1 588.1,162.1 589.6,162.1 591.1,162.1 592.6,162.1 594.1,162.1 595.6,162.1 597.1,162.1 598.6,162.1 600.1,162.1 601.6,162.1 603.1,162.1 604.6,162.1 606.1,162.1 607.6,162.1 609.1,162.1 610.6,162.1 612.1,162.1 613.6,162.1 615.1,162.2 616.6,162.2 618.1,162.2 619.6,162.2 621.1,162.3 622.6,162.3 624.1,162.4 625.6,162.5 627.1,162.6 628.6,162.6 630.1,162.7 631.6,162.8 633.1,162.9 634.6,163.0 636.1,163.1 637.6,163.2 639.1,163.3 640.6,163.4 642.1,163.5 643.6,163.7 645.1,163.8 646.7,163.9 648.2,164.0 649.7,164.1 651.2,164.2 652.7,164.4 654.2,164.5 655.7,164.6 657.2,164.7 658.7,164.9 660.2,165.0 661.7,165.1 663.2,165.3 664.7,165.4 666.2,165.6 667.7,165.7 669.2,165.8 670.7,166.0 672.2,166.1 673.7,166.3 675.2,166.4 676.7,166.6 678.2,166.7 679.7,166.9 681.2,167.1 682.7,167.2 684.2,167.4 685.7,167.5 687.2,167.7 688.7,167.9 690.2,168.0 691.7,168.2 693.2,168.4 694.7,168.5 696.2,168.7 697.7,168.9 699.2,169.0 700.7,169.2 702.2,169.4 703.7,169.6 705.2,169.7 706.7,169.9 708.2,170.1 709.7,170.3 711.2,170.4 712.7,170.6 714.2,170.8 715.7,171.0 717.2,171.1 718.7,171.3 720.2,171.5 721.8,171.7 723.3,171.9 724.8,172.0 726.3,172.2 727.8,172.4 729.3,172.6 730.8,172.8 732.3,172.9 733.8,173.1 735.3,173.3 736.8,173.5 738.3,173.7 739.8,173.9 741.3,174.0 742.8,174.2 744.3,174.4 745.8,174.6 747.3,174.8 748.8,174.9 750.3,175.1 751.8,175.3 753.3,175.5 754.8,175.7 756.3,175.8 757.8,176.0 759.3,176.2 760.8,176.4 762.3,176.5 763.8,176.7 765.3,176.9 766.8,177.1 768.3,177.2 769.8,177.4 771.3,177.6 772.8,177.7" fill="none" stroke="#858585" stroke-width="0.95" stroke-dasharray="2.7,2.3"/><polyline points="457.4,249.6 458.2,245.4 458.9,240.0 459.7,233.5 460.4,226.3 461.2,218.4 461.9,210.2 462.7,201.8 463.4,193.5 464.2,185.5 464.9,178.0 465.7,171.3 466.4,165.4 467.2,160.1 467.9,155.4 468.7,151.0 469.4,146.8 470.2,142.7 470.9,138.6 471.7,134.3 472.4,130.0 473.2,125.9 473.9,122.1 474.7,118.6 475.4,115.6 476.2,112.9 476.9,110.6 477.7,108.6 478.4,106.8 479.2,105.3 479.9,104.0 480.7,102.8 481.4,101.8 482.2,100.9 482.9,100.3 483.7,99.8 484.4,99.6 485.2,99.5 485.9,99.7 486.7,100.0 487.4,100.5 488.2,101.1 488.9,101.9 489.7,102.8 490.4,103.8 491.2,104.8 491.9,106.0 492.7,107.2 493.4,108.5 494.2,109.7 494.9,111.0 495.7,112.3 496.5,113.5 497.2,114.8 498.0,116.1 498.7,117.3 499.5,118.5 500.2,119.8 501.0,121.0 501.7,122.2 502.5,123.4 503.2,124.6 504.0,125.7 504.7,126.9 505.5,128.0 506.2,129.2 507.0,130.3 507.7,131.4 508.5,132.4 509.2,133.5 510.0,134.5 510.7,135.6 511.5,136.6 512.2,137.5 513.0,138.5 513.7,139.4 514.5,140.3 515.2,141.2 516.0,142.0 516.7,142.9 517.5,143.6 518.2,144.4 519.0,145.1 519.7,145.8 520.5,146.5 521.2,147.1 522.0,147.7 522.7,148.3 523.5,148.8 524.2,149.3 525.0,149.8 525.7,150.2 526.5,150.6 527.2,151.0 528.0,151.4 528.7,151.7 529.5,152.0 530.2,152.3 531.0,152.6 531.7,152.8 532.5,153.1 533.3,153.3 534.0,153.5 534.8,153.7 535.5,153.9 536.3,154.1 537.0,154.2 537.8,154.4 538.5,154.5 539.3,154.6 540.0,154.8 540.8,154.9 541.5,155.0 542.3,155.1 543.0,155.2 543.8,155.4 544.5,155.5 545.3,155.5 546.0,155.6 546.8,155.7 547.5,155.8 549.0,156.0 550.5,156.1 552.0,156.2 553.5,156.4 555.0,156.5 556.5,156.5 558.0,156.6 559.5,156.7 561.0,156.7 562.5,156.8 564.0,156.8 565.5,156.8 567.0,156.8 568.5,156.8 570.0,156.8 571.6,156.8 573.1,156.8 574.6,156.8 576.1,156.8 577.6,156.7 579.1,156.7 580.6,156.7 582.1,156.7 583.6,156.7 585.1,156.6 586.6,156.6 588.1,156.6 589.6,156.6 591.1,156.6 592.6,156.6 594.1,156.6 595.6,156.6 597.1,156.6 598.6,156.6 600.1,156.6 601.6,156.6 603.1,156.6 604.6,156.6 606.1,156.6 607.6,156.6 609.1,156.6 610.6,156.6 612.1,156.7 613.6,156.7 615.1,156.7 616.6,156.7 618.1,156.8 619.6,156.8 621.1,156.9 622.6,156.9 624.1,156.9 625.6,157.0 627.1,157.1 628.6,157.1 630.1,157.2 631.6,157.2 633.1,157.3 634.6,157.4 636.1,157.4 637.6,157.5 639.1,157.6 640.6,157.7 642.1,157.8 643.6,157.8 645.1,157.9 646.7,158.0 648.2,158.1 649.7,158.2 651.2,158.3 652.7,158.4 654.2,158.5 655.7,158.6 657.2,158.8 658.7,158.9 660.2,159.0 661.7,159.1 663.2,159.2 664.7,159.4 666.2,159.5 667.7,159.6 669.2,159.8 670.7,159.9 672.2,160.0 673.7,160.2 675.2,160.3 676.7,160.5 678.2,160.6 679.7,160.8 681.2,160.9 682.7,161.1 684.2,161.2 685.7,161.4 687.2,161.6 688.7,161.7 690.2,161.9 691.7,162.0 693.2,162.2 694.7,162.4 696.2,162.6 697.7,162.7 699.2,162.9 700.7,163.1 702.2,163.2 703.7,163.4 705.2,163.6 706.7,163.8 708.2,164.0 709.7,164.1 711.2,164.3 712.7,164.5 714.2,164.7 715.7,164.9 717.2,165.1 718.7,165.2 720.2,165.4 721.8,165.6 723.3,165.8 724.8,166.0 726.3,166.2 727.8,166.4 729.3,166.6 730.8,166.8 732.3,166.9 733.8,167.1 735.3,167.3 736.8,167.5 738.3,167.7 739.8,167.9 741.3,168.1 742.8,168.3 744.3,168.4 745.8,168.6 747.3,168.8 748.8,169.0 750.3,169.2 751.8,169.4 753.3,169.6 754.8,169.7 756.3,169.9 757.8,170.1 759.3,170.3 760.8,170.5 762.3,170.7 763.8,170.8 765.3,171.0 766.8,171.2 768.3,171.4 769.8,171.5 771.3,171.7 772.8,171.9" fill="none" stroke="#d2232c" stroke-width="1.9"/></g><line x1="39.5" y1="174.3" x2="379.8" y2="174.3" stroke="#3a3a3a" stroke-width="1"/><line x1="444.5" y1="174.3" x2="785" y2="174.3" stroke="#3a3a3a" stroke-width="1"/><g stroke="#2a2a2a" stroke-width="1" fill="none" stroke-linecap="square"><line x1="39.5" y1="238.10" x2="39.5" y2="46.70"/><line x1="32.9" y1="238.10" x2="39.5" y2="238.10"/><line x1="32.9" y1="174.30" x2="39.5" y2="174.30"/><line x1="32.9" y1="110.50" x2="39.5" y2="110.50"/><line x1="32.9" y1="46.70" x2="39.5" y2="46.70"/><line x1="51.80" y1="246.5" x2="352.20" y2="246.5"/><line x1="51.80" y1="246.5" x2="51.80" y2="253.0"/><line x1="126.90" y1="246.5" x2="126.90" y2="253.0"/><line x1="202.00" y1="246.5" x2="202.00" y2="253.0"/><line x1="277.10" y1="246.5" x2="277.10" y2="253.0"/><line x1="352.20" y1="246.5" x2="352.20" y2="253.0"/></g><text x="51.80" y="265.3" text-anchor="middle" class="ax">0</text><text x="126.90" y="265.3" text-anchor="middle" class="ax">5</text><text x="202.00" y="265.3" text-anchor="middle" class="ax">10</text><text x="277.10" y="265.3" text-anchor="middle" class="ax">15</text><text x="352.20" y="265.3" text-anchor="middle" class="ax">20</text><text transform="translate(28.20,238.10) rotate(-90)" text-anchor="middle" class="ax">0.95</text><text transform="translate(28.20,174.30) rotate(-90)" text-anchor="middle" class="ax">1.00</text><text transform="translate(28.20,110.50) rotate(-90)" text-anchor="middle" class="ax">1.05</text><text transform="translate(28.20,46.70) rotate(-90)" text-anchor="middle" class="ax">1.10</text><text x="209.51" y="287.6" text-anchor="middle" class="lab">Lag</text><text transform="translate(9.40,129.3) rotate(-90)" text-anchor="middle" class="lab">RR</text><g stroke="#2a2a2a" stroke-width="1" fill="none" stroke-linecap="square"><line x1="444.5" y1="238.10" x2="444.5" y2="46.70"/><line x1="437.9" y1="238.10" x2="444.5" y2="238.10"/><line x1="437.9" y1="174.30" x2="444.5" y2="174.30"/><line x1="437.9" y1="110.50" x2="444.5" y2="110.50"/><line x1="437.9" y1="46.70" x2="444.5" y2="46.70"/><line x1="457.40" y1="246.5" x2="757.80" y2="246.5"/><line x1="457.40" y1="246.5" x2="457.40" y2="253.0"/><line x1="532.50" y1="246.5" x2="532.50" y2="253.0"/><line x1="607.60" y1="246.5" x2="607.60" y2="253.0"/><line x1="682.70" y1="246.5" x2="682.70" y2="253.0"/><line x1="757.80" y1="246.5" x2="757.80" y2="253.0"/></g><text x="457.40" y="265.3" text-anchor="middle" class="ax">0</text><text x="532.50" y="265.3" text-anchor="middle" class="ax">5</text><text x="607.60" y="265.3" text-anchor="middle" class="ax">10</text><text x="682.70" y="265.3" text-anchor="middle" class="ax">15</text><text x="757.80" y="265.3" text-anchor="middle" class="ax">20</text><text transform="translate(433.20,238.10) rotate(-90)" text-anchor="middle" class="ax">0.95</text><text transform="translate(433.20,174.30) rotate(-90)" text-anchor="middle" class="ax">1.00</text><text transform="translate(433.20,110.50) rotate(-90)" text-anchor="middle" class="ax">1.05</text><text transform="translate(433.20,46.70) rotate(-90)" text-anchor="middle" class="ax">1.10</text><text x="615.11" y="287.6" text-anchor="middle" class="lab">Lag</text><text transform="translate(414.40,129.3) rotate(-90)" text-anchor="middle" class="lab">RR</text><line x1="147.9" y1="45.8" x2="163.5" y2="45.8" stroke="#d65560" stroke-width="1.6"/><line x1="147.9" y1="55.6" x2="163.5" y2="55.6" stroke="#b0b0b0" stroke-width="1.2" stroke-dasharray="3.9,3.9"/><text x="170.9" y="49" class="leg">Pooled (with 95%CI)</text><text x="170.9" y="58.8" class="leg">First−stage region−specific</text><line x1="553.2" y1="45.8" x2="568.8000000000001" y2="45.8" stroke="#d65560" stroke-width="1.6"/><line x1="553.2" y1="55.6" x2="568.8000000000001" y2="55.6" stroke="#b0b0b0" stroke-width="1.2" stroke-dasharray="3.9,3.9"/><text x="576.2" y="49" class="leg">Pooled (with 95%CI)</text><text x="576.2" y="58.8" class="leg">First−stage region−specific</text><text x="225.5" y="10.2" text-anchor="middle" class="ttl">Predictor−specific summary for temperature = 22C</text><text x="630.3" y="10.2" text-anchor="middle" class="ttl">Predictor−specific summary for temperature = 0C</text></svg>
</body></html>
